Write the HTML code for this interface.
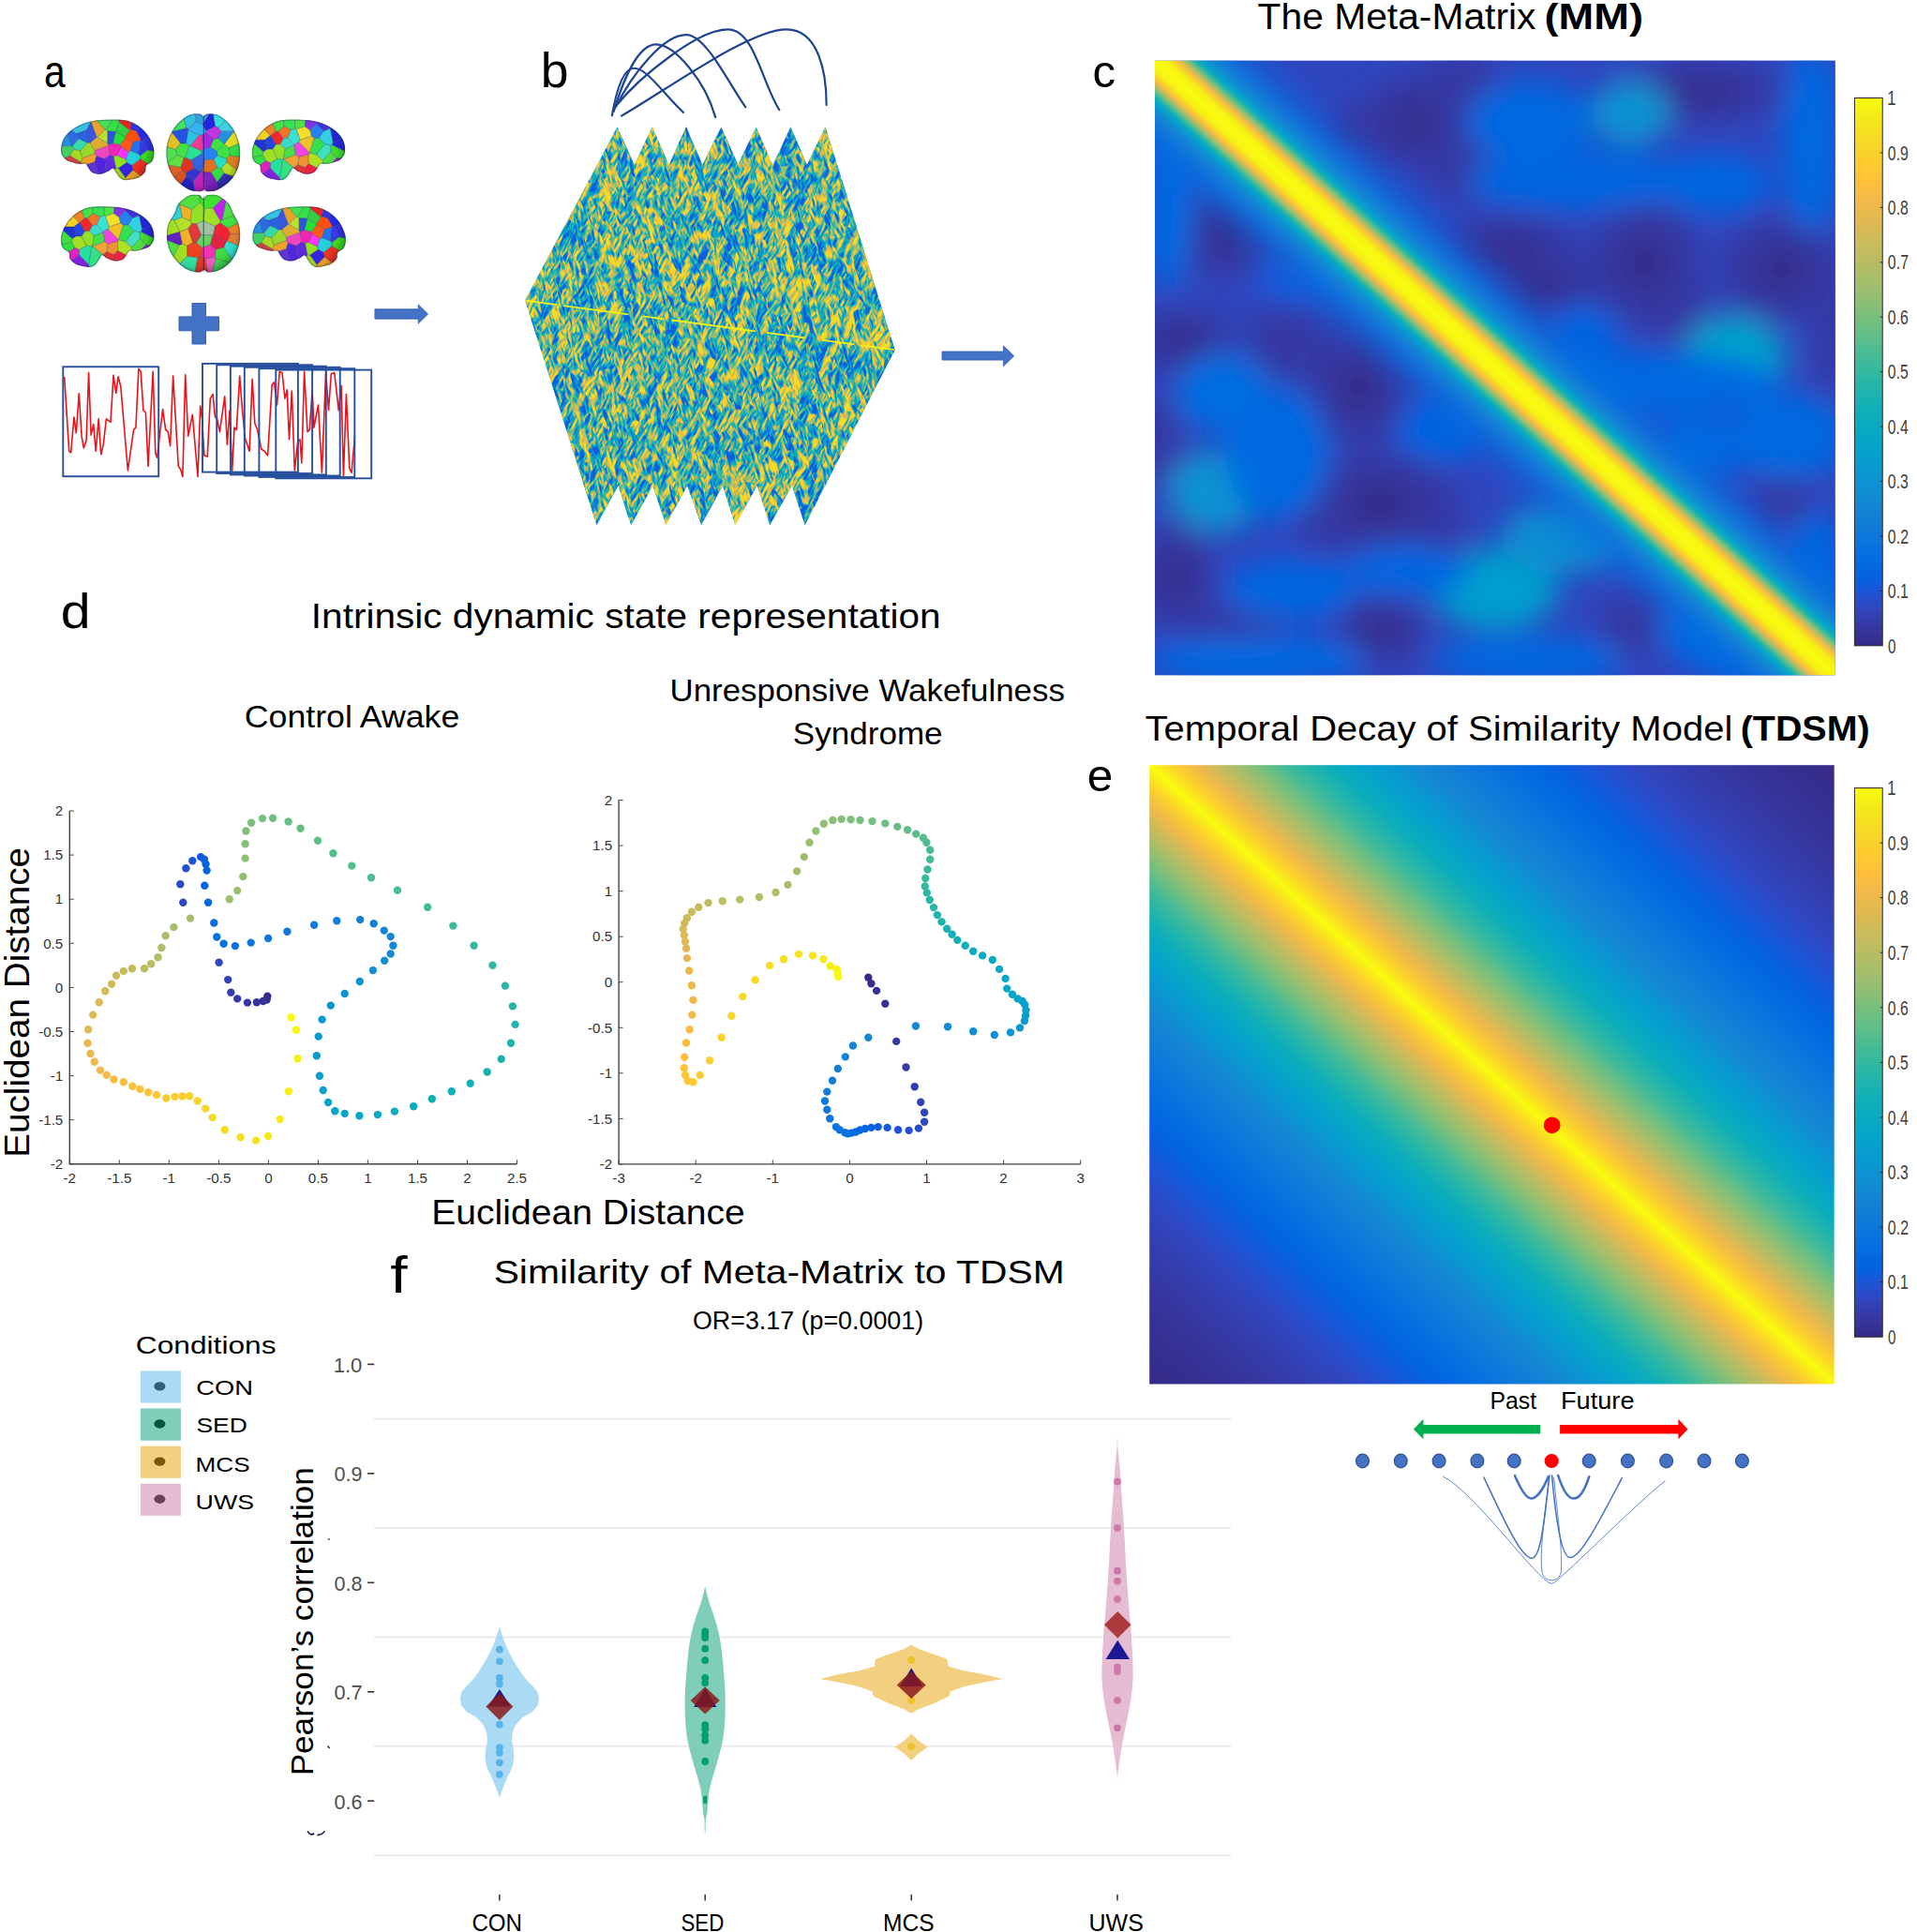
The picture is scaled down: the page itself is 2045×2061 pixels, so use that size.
<!DOCTYPE html>
<html><head><meta charset="utf-8"><title>Figure</title>
<style>html,body{margin:0;padding:0;background:#fff}svg{display:block}text{font-family:"Liberation Sans",sans-serif}</style>
</head><body>
<svg width="2045" height="2061" viewBox="0 0 2045 2061">
<rect width="2045" height="2061" fill="#fff"/>
<clipPath id="cclip"><rect x="1232.0" y="64.4" width="725.9" height="656.0"/></clipPath>
<filter id="cblur" x="-10%" y="-10%" width="120%" height="120%"><feGaussianBlur stdDeviation="15"/></filter>
<g clip-path="url(#cclip)">
<rect x="1232.0" y="64.4" width="725.9" height="656.0" fill="#2f46bf"/>
<g filter="url(#cblur)">
<ellipse cx="1559" cy="91" rx="42" ry="34" fill="#3638a3"/>
<ellipse cx="1464" cy="137" rx="47" ry="30" fill="#3638a3"/>
<ellipse cx="1566" cy="182" rx="47" ry="30" fill="#3638a3"/>
<ellipse cx="1813" cy="97" rx="94" ry="34" fill="#3638a3"/>
<ellipse cx="1609" cy="268" rx="75" ry="38" fill="#3638a3"/>
<ellipse cx="1755" cy="281" rx="61" ry="68" fill="#3638a3"/>
<ellipse cx="1784" cy="327" rx="38" ry="38" fill="#3638a3"/>
<ellipse cx="1900" cy="287" rx="66" ry="55" fill="#3638a3"/>
<ellipse cx="1305" cy="248" rx="57" ry="47" fill="#3638a3"/>
<ellipse cx="1261" cy="366" rx="57" ry="38" fill="#3638a3"/>
<ellipse cx="1370" cy="360" rx="38" ry="47" fill="#3638a3"/>
<ellipse cx="1450" cy="412" rx="57" ry="64" fill="#3638a3"/>
<ellipse cx="1472" cy="537" rx="85" ry="55" fill="#3638a3"/>
<ellipse cx="1515" cy="570" rx="47" ry="34" fill="#3638a3"/>
<ellipse cx="1254" cy="615" rx="42" ry="60" fill="#3638a3"/>
<ellipse cx="1472" cy="671" rx="47" ry="43" fill="#3638a3"/>
<ellipse cx="1747" cy="665" rx="42" ry="34" fill="#3638a3"/>
<ellipse cx="1900" cy="533" rx="33" ry="34" fill="#3638a3"/>
<ellipse cx="1954" cy="360" rx="19" ry="68" fill="#3638a3"/>
<ellipse cx="1319" cy="668" rx="47" ry="26" fill="#3638a3"/>
<ellipse cx="1682" cy="327" rx="47" ry="34" fill="#3638a3"/>
<ellipse cx="1413" cy="550" rx="38" ry="34" fill="#3638a3"/>
<ellipse cx="1856" cy="602" rx="28" ry="26" fill="#3638a3"/>
<ellipse cx="1232" cy="471" rx="28" ry="51" fill="#3638a3"/>
<ellipse cx="1508" cy="130" rx="57" ry="51" fill="#3638a3"/>
<ellipse cx="1646" cy="307" rx="66" ry="34" fill="#3638a3"/>
<ellipse cx="1406" cy="248" rx="38" ry="34" fill="#3638a3"/>
<ellipse cx="1631" cy="130" rx="67" ry="43" fill="#0269e1"/>
<ellipse cx="1740" cy="120" rx="43" ry="35" fill="#0d93d2"/>
<ellipse cx="1682" cy="192" rx="118" ry="32" fill="#0266e1"/>
<ellipse cx="1827" cy="196" rx="63" ry="32" fill="#0266e1"/>
<ellipse cx="1932" cy="150" rx="31" ry="99" fill="#0269e1"/>
<ellipse cx="1849" cy="383" rx="55" ry="46" fill="#06a3cb"/>
<ellipse cx="1755" cy="409" rx="141" ry="35" fill="#0269e1"/>
<ellipse cx="1689" cy="353" rx="39" ry="28" fill="#0364e1"/>
<ellipse cx="1907" cy="465" rx="63" ry="46" fill="#0269e1"/>
<ellipse cx="1813" cy="478" rx="47" ry="35" fill="#0269e1"/>
<ellipse cx="1936" cy="602" rx="31" ry="57" fill="#0266e1"/>
<ellipse cx="1305" cy="419" rx="51" ry="43" fill="#046de0"/>
<ellipse cx="1297" cy="524" rx="51" ry="43" fill="#0d93d2"/>
<ellipse cx="1363" cy="484" rx="55" ry="71" fill="#0269e1"/>
<ellipse cx="1377" cy="301" rx="39" ry="25" fill="#125adc"/>
<ellipse cx="1247" cy="209" rx="27" ry="99" fill="#0269e1"/>
<ellipse cx="1595" cy="629" rx="67" ry="43" fill="#069ece"/>
<ellipse cx="1668" cy="573" rx="67" ry="39" fill="#118cd2"/>
<ellipse cx="1501" cy="609" rx="67" ry="28" fill="#0266e1"/>
<ellipse cx="1341" cy="704" rx="118" ry="25" fill="#0269e1"/>
<ellipse cx="1631" cy="704" rx="102" ry="25" fill="#0269e1"/>
<ellipse cx="1820" cy="674" rx="51" ry="35" fill="#0269e1"/>
<ellipse cx="1377" cy="629" rx="71" ry="32" fill="#0266e1"/>
<ellipse cx="1537" cy="458" rx="47" ry="35" fill="#0364e1"/>
<ellipse cx="1755" cy="524" rx="47" ry="28" fill="#046de0"/>
<ellipse cx="1697" cy="491" rx="39" ry="28" fill="#0269e1"/>
<ellipse cx="1319" cy="176" rx="39" ry="28" fill="#0661e0"/>
<ellipse cx="1435" cy="281" rx="31" ry="28" fill="#0661e0"/>
<ellipse cx="1885" cy="714" rx="78" ry="14" fill="#0364e1"/>
<ellipse cx="1813" cy="97" rx="44" ry="16" fill="#352a87" fill-opacity=".8"/>
<ellipse cx="1609" cy="268" rx="35" ry="18" fill="#352a87" fill-opacity=".8"/>
<ellipse cx="1755" cy="281" rx="28" ry="31" fill="#352a87" fill-opacity=".8"/>
<ellipse cx="1900" cy="287" rx="30" ry="26" fill="#352a87" fill-opacity=".8"/>
<ellipse cx="1305" cy="248" rx="26" ry="22" fill="#352a87" fill-opacity=".8"/>
<ellipse cx="1261" cy="366" rx="26" ry="18" fill="#352a87" fill-opacity=".8"/>
<ellipse cx="1450" cy="412" rx="26" ry="30" fill="#352a87" fill-opacity=".8"/>
<ellipse cx="1472" cy="537" rx="39" ry="26" fill="#352a87" fill-opacity=".8"/>
<ellipse cx="1254" cy="615" rx="20" ry="28" fill="#352a87" fill-opacity=".8"/>
<ellipse cx="1472" cy="671" rx="22" ry="20" fill="#352a87" fill-opacity=".8"/>
<ellipse cx="1508" cy="130" rx="26" ry="24" fill="#352a87" fill-opacity=".8"/>
<ellipse cx="1646" cy="307" rx="30" ry="16" fill="#352a87" fill-opacity=".8"/>
</g>
<linearGradient id="cband" gradientUnits="userSpaceOnUse" x1="1268.6" y1="753.5" x2="1921.3" y2="31.3"><stop offset="0.3936" stop-color="#0364e1" stop-opacity="0.00"/><stop offset="0.4076" stop-color="#0267e1" stop-opacity="0.10"/><stop offset="0.4244" stop-color="#056de0" stop-opacity="0.35"/><stop offset="0.4384" stop-color="#0a72de" stop-opacity="0.70"/><stop offset="0.4496" stop-color="#117ada" stop-opacity="0.95"/><stop offset="0.4580" stop-color="#1486d3" stop-opacity="1.00"/><stop offset="0.4642" stop-color="#079cd0" stop-opacity="1.00"/><stop offset="0.4692" stop-color="#0cadbb" stop-opacity="1.00"/><stop offset="0.4731" stop-color="#3fba99" stop-opacity="1.00"/><stop offset="0.4770" stop-color="#8ebf74" stop-opacity="1.00"/><stop offset="0.4810" stop-color="#d3bb58" stop-opacity="1.00"/><stop offset="0.4849" stop-color="#fec13a" stop-opacity="1.00"/><stop offset="0.4882" stop-color="#f6dc23" stop-opacity="1.00"/><stop offset="0.4922" stop-color="#f6f115" stop-opacity="1.00"/><stop offset="0.5000" stop-color="#f9fb0e" stop-opacity="1.00"/><stop offset="0.5078" stop-color="#f6f115" stop-opacity="1.00"/><stop offset="0.5118" stop-color="#f6dc23" stop-opacity="1.00"/><stop offset="0.5151" stop-color="#fec13a" stop-opacity="1.00"/><stop offset="0.5190" stop-color="#d3bb58" stop-opacity="1.00"/><stop offset="0.5230" stop-color="#8ebf74" stop-opacity="1.00"/><stop offset="0.5269" stop-color="#3fba99" stop-opacity="1.00"/><stop offset="0.5308" stop-color="#0cadbb" stop-opacity="1.00"/><stop offset="0.5358" stop-color="#079cd0" stop-opacity="1.00"/><stop offset="0.5420" stop-color="#1486d3" stop-opacity="1.00"/><stop offset="0.5504" stop-color="#117ada" stop-opacity="0.95"/><stop offset="0.5616" stop-color="#0a72de" stop-opacity="0.70"/><stop offset="0.5756" stop-color="#056de0" stop-opacity="0.35"/><stop offset="0.5924" stop-color="#0267e1" stop-opacity="0.10"/><stop offset="0.6064" stop-color="#0364e1" stop-opacity="0.00"/></linearGradient>
<rect x="1232.0" y="64.4" width="725.9" height="656.0" fill="url(#cband)"/>
</g>
<linearGradient id="cbar1" x1="0" y1="0" x2="0" y2="1"><stop offset="0.0000" stop-color="#f9fb0e"/><stop offset="0.0312" stop-color="#f5eb18"/><stop offset="0.0625" stop-color="#f5de21"/><stop offset="0.0938" stop-color="#f9d329"/><stop offset="0.1250" stop-color="#fec932"/><stop offset="0.1562" stop-color="#febf3c"/><stop offset="0.1875" stop-color="#f2b949"/><stop offset="0.2188" stop-color="#e3b951"/><stop offset="0.2500" stop-color="#d3bb58"/><stop offset="0.2812" stop-color="#c2bc5f"/><stop offset="0.3125" stop-color="#b1bd66"/><stop offset="0.3438" stop-color="#9fbe6d"/><stop offset="0.3750" stop-color="#8bbf75"/><stop offset="0.4062" stop-color="#75bf7e"/><stop offset="0.4375" stop-color="#5ebe89"/><stop offset="0.4688" stop-color="#47bb95"/><stop offset="0.5000" stop-color="#33b8a1"/><stop offset="0.5312" stop-color="#21b4ac"/><stop offset="0.5625" stop-color="#13b0b6"/><stop offset="0.5938" stop-color="#09abbf"/><stop offset="0.6250" stop-color="#06a6c7"/><stop offset="0.6562" stop-color="#069fce"/><stop offset="0.6875" stop-color="#0a97d1"/><stop offset="0.7188" stop-color="#118dd2"/><stop offset="0.7500" stop-color="#1484d4"/><stop offset="0.7812" stop-color="#127cd8"/><stop offset="0.8125" stop-color="#0c74dd"/><stop offset="0.8438" stop-color="#046ce0"/><stop offset="0.8750" stop-color="#0462e0"/><stop offset="0.9062" stop-color="#2152d3"/><stop offset="0.9375" stop-color="#3243b9"/><stop offset="0.9688" stop-color="#36369f"/><stop offset="1.0000" stop-color="#352a87"/></linearGradient>
<rect x="1978.4" y="104.5" width="29.8" height="584.3" fill="url(#cbar1)" stroke="#262626" stroke-width="1"/>
<text transform="translate(2013.89,696.50) scale(0.7074,1)" font-size="21.50" fill="#404040">0</text>
<line x1="2005.7" y1="630.4" x2="2008.2" y2="630.4" stroke="#262626" stroke-width="1"/>
<text transform="translate(2013.87,638.07) scale(0.7378,1)" font-size="21.50" fill="#404040">0.1</text>
<line x1="2005.7" y1="571.9" x2="2008.2" y2="571.9" stroke="#262626" stroke-width="1"/>
<text transform="translate(2013.86,579.64) scale(0.7406,1)" font-size="21.50" fill="#404040">0.2</text>
<line x1="2005.7" y1="513.5" x2="2008.2" y2="513.5" stroke="#262626" stroke-width="1"/>
<text transform="translate(2013.87,521.21) scale(0.7350,1)" font-size="21.50" fill="#404040">0.3</text>
<line x1="2005.7" y1="455.1" x2="2008.2" y2="455.1" stroke="#262626" stroke-width="1"/>
<text transform="translate(2013.87,462.78) scale(0.7294,1)" font-size="21.50" fill="#404040">0.4</text>
<line x1="2005.7" y1="396.6" x2="2008.2" y2="396.6" stroke="#262626" stroke-width="1"/>
<text transform="translate(2013.87,404.35) scale(0.7350,1)" font-size="21.50" fill="#404040">0.5</text>
<line x1="2005.7" y1="338.2" x2="2008.2" y2="338.2" stroke="#262626" stroke-width="1"/>
<text transform="translate(2013.87,345.92) scale(0.7350,1)" font-size="21.50" fill="#404040">0.6</text>
<line x1="2005.7" y1="279.8" x2="2008.2" y2="279.8" stroke="#262626" stroke-width="1"/>
<text transform="translate(2013.86,287.49) scale(0.7406,1)" font-size="21.50" fill="#404040">0.7</text>
<line x1="2005.7" y1="221.4" x2="2008.2" y2="221.4" stroke="#262626" stroke-width="1"/>
<text transform="translate(2013.87,229.06) scale(0.7350,1)" font-size="21.50" fill="#404040">0.8</text>
<line x1="2005.7" y1="162.9" x2="2008.2" y2="162.9" stroke="#262626" stroke-width="1"/>
<text transform="translate(2013.87,170.63) scale(0.7378,1)" font-size="21.50" fill="#404040">0.9</text>
<text transform="translate(2013.24,112.20) scale(0.7805,1)" font-size="21.50" fill="#404040">1</text>
<linearGradient id="egrad" gradientUnits="userSpaceOnUse" x1="1263.0" y1="1509.7" x2="1919.9" y2="783.0"><stop offset="0.0000" stop-color="#352a87"/><stop offset="0.0167" stop-color="#352c8b"/><stop offset="0.0333" stop-color="#362f90"/><stop offset="0.0500" stop-color="#363195"/><stop offset="0.0667" stop-color="#36349a"/><stop offset="0.0833" stop-color="#3637a1"/><stop offset="0.1000" stop-color="#353ba8"/><stop offset="0.1167" stop-color="#343eb0"/><stop offset="0.1333" stop-color="#3243b9"/><stop offset="0.1500" stop-color="#2e48c3"/><stop offset="0.1667" stop-color="#254fce"/><stop offset="0.1833" stop-color="#1857d8"/><stop offset="0.2000" stop-color="#095fdf"/><stop offset="0.2167" stop-color="#0266e1"/><stop offset="0.2333" stop-color="#046ce0"/><stop offset="0.2500" stop-color="#0a72de"/><stop offset="0.2667" stop-color="#0f78db"/><stop offset="0.2833" stop-color="#137fd7"/><stop offset="0.3000" stop-color="#1486d3"/><stop offset="0.3167" stop-color="#0e91d2"/><stop offset="0.3333" stop-color="#079cd0"/><stop offset="0.3500" stop-color="#06a5c8"/><stop offset="0.3667" stop-color="#0bacbd"/><stop offset="0.3833" stop-color="#20b4ad"/><stop offset="0.4000" stop-color="#40ba99"/><stop offset="0.4167" stop-color="#6cbf82"/><stop offset="0.4333" stop-color="#9bbf6f"/><stop offset="0.4500" stop-color="#c5bc5e"/><stop offset="0.4667" stop-color="#f0b94a"/><stop offset="0.4833" stop-color="#fbd12b"/><stop offset="0.5000" stop-color="#f9fb0e"/><stop offset="0.5167" stop-color="#fbd12b"/><stop offset="0.5333" stop-color="#f0b94a"/><stop offset="0.5500" stop-color="#c5bc5e"/><stop offset="0.5667" stop-color="#9bbf6f"/><stop offset="0.5833" stop-color="#6cbf82"/><stop offset="0.6000" stop-color="#40ba99"/><stop offset="0.6167" stop-color="#20b4ad"/><stop offset="0.6333" stop-color="#0bacbd"/><stop offset="0.6500" stop-color="#06a5c8"/><stop offset="0.6667" stop-color="#079cd0"/><stop offset="0.6833" stop-color="#0e91d2"/><stop offset="0.7000" stop-color="#1486d3"/><stop offset="0.7167" stop-color="#137fd7"/><stop offset="0.7333" stop-color="#0f78db"/><stop offset="0.7500" stop-color="#0a72de"/><stop offset="0.7667" stop-color="#046ce0"/><stop offset="0.7833" stop-color="#0266e1"/><stop offset="0.8000" stop-color="#095fdf"/><stop offset="0.8167" stop-color="#1857d8"/><stop offset="0.8333" stop-color="#254fce"/><stop offset="0.8500" stop-color="#2e48c3"/><stop offset="0.8667" stop-color="#3243b9"/><stop offset="0.8833" stop-color="#343eb0"/><stop offset="0.9000" stop-color="#353ba8"/><stop offset="0.9167" stop-color="#3637a1"/><stop offset="0.9333" stop-color="#36349a"/><stop offset="0.9500" stop-color="#363195"/><stop offset="0.9667" stop-color="#362f90"/><stop offset="0.9833" stop-color="#352c8b"/><stop offset="1.0000" stop-color="#352a87"/></linearGradient>
<rect x="1226.2" y="816.2" width="730.5" height="660.3" fill="url(#egrad)"/>
<circle cx="1655.6" cy="1200.3" r="8.9" fill="#ff0000"/>
<linearGradient id="cbar2" x1="0" y1="0" x2="0" y2="1"><stop offset="0.0000" stop-color="#f9fb0e"/><stop offset="0.0312" stop-color="#f5eb18"/><stop offset="0.0625" stop-color="#f5de21"/><stop offset="0.0938" stop-color="#f9d329"/><stop offset="0.1250" stop-color="#fec932"/><stop offset="0.1562" stop-color="#febf3c"/><stop offset="0.1875" stop-color="#f2b949"/><stop offset="0.2188" stop-color="#e3b951"/><stop offset="0.2500" stop-color="#d3bb58"/><stop offset="0.2812" stop-color="#c2bc5f"/><stop offset="0.3125" stop-color="#b1bd66"/><stop offset="0.3438" stop-color="#9fbe6d"/><stop offset="0.3750" stop-color="#8bbf75"/><stop offset="0.4062" stop-color="#75bf7e"/><stop offset="0.4375" stop-color="#5ebe89"/><stop offset="0.4688" stop-color="#47bb95"/><stop offset="0.5000" stop-color="#33b8a1"/><stop offset="0.5312" stop-color="#21b4ac"/><stop offset="0.5625" stop-color="#13b0b6"/><stop offset="0.5938" stop-color="#09abbf"/><stop offset="0.6250" stop-color="#06a6c7"/><stop offset="0.6562" stop-color="#069fce"/><stop offset="0.6875" stop-color="#0a97d1"/><stop offset="0.7188" stop-color="#118dd2"/><stop offset="0.7500" stop-color="#1484d4"/><stop offset="0.7812" stop-color="#127cd8"/><stop offset="0.8125" stop-color="#0c74dd"/><stop offset="0.8438" stop-color="#046ce0"/><stop offset="0.8750" stop-color="#0462e0"/><stop offset="0.9062" stop-color="#2152d3"/><stop offset="0.9375" stop-color="#3243b9"/><stop offset="0.9688" stop-color="#36369f"/><stop offset="1.0000" stop-color="#352a87"/></linearGradient>
<rect x="1978.4" y="840.6" width="29.8" height="585.6" fill="url(#cbar2)" stroke="#262626" stroke-width="1"/>
<text transform="translate(2013.89,1433.90) scale(0.7074,1)" font-size="21.50" fill="#404040">0</text>
<line x1="2005.7" y1="1367.6" x2="2008.2" y2="1367.6" stroke="#262626" stroke-width="1"/>
<text transform="translate(2013.87,1375.34) scale(0.7378,1)" font-size="21.50" fill="#404040">0.1</text>
<line x1="2005.7" y1="1309.1" x2="2008.2" y2="1309.1" stroke="#262626" stroke-width="1"/>
<text transform="translate(2013.86,1316.78) scale(0.7406,1)" font-size="21.50" fill="#404040">0.2</text>
<line x1="2005.7" y1="1250.5" x2="2008.2" y2="1250.5" stroke="#262626" stroke-width="1"/>
<text transform="translate(2013.87,1258.22) scale(0.7350,1)" font-size="21.50" fill="#404040">0.3</text>
<line x1="2005.7" y1="1192.0" x2="2008.2" y2="1192.0" stroke="#262626" stroke-width="1"/>
<text transform="translate(2013.87,1199.66) scale(0.7294,1)" font-size="21.50" fill="#404040">0.4</text>
<line x1="2005.7" y1="1133.4" x2="2008.2" y2="1133.4" stroke="#262626" stroke-width="1"/>
<text transform="translate(2013.87,1141.10) scale(0.7350,1)" font-size="21.50" fill="#404040">0.5</text>
<line x1="2005.7" y1="1074.8" x2="2008.2" y2="1074.8" stroke="#262626" stroke-width="1"/>
<text transform="translate(2013.87,1082.54) scale(0.7350,1)" font-size="21.50" fill="#404040">0.6</text>
<line x1="2005.7" y1="1016.3" x2="2008.2" y2="1016.3" stroke="#262626" stroke-width="1"/>
<text transform="translate(2013.86,1023.98) scale(0.7406,1)" font-size="21.50" fill="#404040">0.7</text>
<line x1="2005.7" y1="957.7" x2="2008.2" y2="957.7" stroke="#262626" stroke-width="1"/>
<text transform="translate(2013.87,965.42) scale(0.7350,1)" font-size="21.50" fill="#404040">0.8</text>
<line x1="2005.7" y1="899.2" x2="2008.2" y2="899.2" stroke="#262626" stroke-width="1"/>
<text transform="translate(2013.87,906.86) scale(0.7378,1)" font-size="21.50" fill="#404040">0.9</text>
<text transform="translate(2013.24,848.30) scale(0.7805,1)" font-size="21.50" fill="#404040">1</text>
<filter id="bblur" x="-5%" y="-5%" width="110%" height="110%"><feGaussianBlur stdDeviation="2.2"/></filter>
<g transform="translate(50,100) scale(0.18258)">
<radialGradient id="bshadeA1" gradientUnits="userSpaceOnUse" cx="300" cy="270" r="360"><stop offset="0" stop-color="#fff" stop-opacity="0.05"/><stop offset="0.55" stop-color="#fff" stop-opacity="0"/><stop offset="0.8" stop-color="#000" stop-opacity="0.05"/><stop offset="1" stop-color="#000" stop-opacity="0.38"/></radialGradient><clipPath id="cpA1"><path d="M82.0,335.0 C81.2,317.5 85.3,290.0 95.0,270.0 C104.7,250.0 120.8,230.8 140.0,215.0 C159.2,199.2 185.0,185.0 210.0,175.0 C235.0,165.0 261.7,159.2 290.0,155.0 C318.3,150.8 351.7,150.0 380.0,150.0 C408.3,150.0 435.0,149.2 460.0,155.0 C485.0,160.8 509.2,171.7 530.0,185.0 C550.8,198.3 570.8,217.5 585.0,235.0 C599.2,252.5 607.8,271.7 615.0,290.0 C622.2,308.3 628.0,327.5 628.0,345.0 C628.0,362.5 623.0,382.5 615.0,395.0 C607.0,407.5 586.7,410.0 580.0,420.0 C573.3,430.0 580.8,444.2 575.0,455.0 C569.2,465.8 557.5,477.5 545.0,485.0 C532.5,492.5 515.0,496.7 500.0,500.0 C485.0,503.3 467.5,506.7 455.0,505.0 C442.5,503.3 434.2,498.3 425.0,490.0 C415.8,481.7 406.7,464.2 400.0,455.0 C393.3,445.8 392.5,435.0 385.0,435.0 C377.5,435.0 367.5,449.2 355.0,455.0 C342.5,460.8 325.0,469.2 310.0,470.0 C295.0,470.8 276.7,466.7 265.0,460.0 C253.3,453.3 246.7,438.3 240.0,430.0 C233.3,421.7 235.0,413.3 225.0,410.0 C215.0,406.7 195.8,412.5 180.0,410.0 C164.2,407.5 143.3,400.8 130.0,395.0 C116.7,389.2 108.0,385.0 100.0,375.0 C92.0,365.0 82.8,352.5 82.0,335.0Z"/></clipPath><g clip-path="url(#cpA1)"><g filter="url(#bblur)"><polygon points="172,233 186,263 149,307 145,305 105,185" fill="#2a6ae0" stroke="#142850" stroke-opacity=".32" stroke-width="4.5"/><polygon points="232,211 249,286 236,288 186,263 172,233" fill="#2060e0" stroke="#142850" stroke-opacity=".32" stroke-width="4.5"/><polygon points="157,325 149,307 186,263 236,288 195,334" fill="#30d8a8" stroke="#142850" stroke-opacity=".32" stroke-width="4.5"/><polygon points="62,396 62,305 145,305 149,307 157,325 134,363" fill="#40d060" stroke="#142850" stroke-opacity=".32" stroke-width="4.5"/><polygon points="134,363 157,325 195,334 209,377 200,401" fill="#a8d820" stroke="#142850" stroke-opacity=".32" stroke-width="4.5"/><polygon points="209,377 195,334 236,288 249,286 253,287 281,332 280,349" fill="#98d828" stroke="#142850" stroke-opacity=".32" stroke-width="4.5"/><polygon points="257,161 292,254 253,287 249,286 232,211" fill="#3050e0" stroke="#142850" stroke-opacity=".32" stroke-width="4.5"/><polygon points="262,130 269,130 340,210 296,254 292,254 257,161" fill="#e8a020" stroke="#142850" stroke-opacity=".32" stroke-width="4.5"/><polygon points="281,332 253,287 292,254 296,254 355,290 360,299 358,304" fill="#e0a828" stroke="#142850" stroke-opacity=".32" stroke-width="4.5"/><polygon points="355,290 296,254 340,210 345,210 355,218" fill="#b8e020" stroke="#142850" stroke-opacity=".32" stroke-width="4.5"/><polygon points="398,130 415,130 422,165 403,222 355,218 345,210" fill="#30e040" stroke="#142850" stroke-opacity=".32" stroke-width="4.5"/><polygon points="269,130 398,130 345,210 340,210" fill="#40e050" stroke="#142850" stroke-opacity=".32" stroke-width="4.5"/><polygon points="415,130 502,130 490,209 482,212 422,165" fill="#f02020" stroke="#142850" stroke-opacity=".32" stroke-width="4.5"/><polygon points="360,299 355,290 355,218 403,222 403,223 386,290" fill="#2050e0" stroke="#142850" stroke-opacity=".32" stroke-width="4.5"/><polygon points="386,290 403,223 457,250 458,259 428,299" fill="#20e030" stroke="#142850" stroke-opacity=".32" stroke-width="4.5"/><polygon points="458,259 457,250 482,212 490,209 522,218 550,268 546,272 502,285" fill="#ff5010" stroke="#142850" stroke-opacity=".32" stroke-width="4.5"/><polygon points="599,130 648,130 648,226 559,268 550,268 522,218" fill="#2828e8" stroke="#142850" stroke-opacity=".32" stroke-width="4.5"/><polygon points="502,130 599,130 522,218 490,209" fill="#3030e0" stroke="#142850" stroke-opacity=".32" stroke-width="4.5"/><polygon points="590,329 545,363 536,352 546,271 550,268 559,268" fill="#3838f0" stroke="#142850" stroke-opacity=".32" stroke-width="4.5"/><polygon points="648,339 648,447 547,382 545,363 590,329" fill="#40e020" stroke="#142850" stroke-opacity=".32" stroke-width="4.5"/><polygon points="502,285 546,272 536,352 487,334" fill="#2070f0" stroke="#142850" stroke-opacity=".32" stroke-width="4.5"/><polygon points="369,358 358,304 360,299 386,290 428,299 434,312 410,360 389,367" fill="#f020b0" stroke="#142850" stroke-opacity=".32" stroke-width="4.5"/><polygon points="280,349 281,332 358,304 369,358 338,381 288,364" fill="#f040c0" stroke="#142850" stroke-opacity=".32" stroke-width="4.5"/><polygon points="410,360 434,312 477,338 461,386" fill="#ff30ff" stroke="#142850" stroke-opacity=".32" stroke-width="4.5"/><polygon points="466,403 461,386 477,338 487,334 536,352 545,363 547,382 497,419" fill="#20d0e0" stroke="#142850" stroke-opacity=".32" stroke-width="4.5"/><polygon points="316,515 280,397 288,364 338,381 346,471" fill="#5020e0" stroke="#142850" stroke-opacity=".32" stroke-width="4.5"/><polygon points="312,525 178,525 202,423 280,397 316,515" fill="#6030d0" stroke="#142850" stroke-opacity=".32" stroke-width="4.5"/><polygon points="389,367 410,360 461,386 466,403 418,435 403,435" fill="#90e020" stroke="#142850" stroke-opacity=".32" stroke-width="4.5"/><polygon points="418,435 466,403 498,419 504,446 459,491" fill="#3020e0" stroke="#142850" stroke-opacity=".32" stroke-width="4.5"/><polygon points="648,447 648,525 609,525 504,446 498,419 547,382" fill="#f03020" stroke="#142850" stroke-opacity=".32" stroke-width="4.5"/><polygon points="609,525 455,525 459,491 504,446" fill="#f0a020" stroke="#142850" stroke-opacity=".32" stroke-width="4.5"/><polygon points="455,525 312,525 316,515 346,471 403,435 418,435 459,491" fill="#a0d020" stroke="#142850" stroke-opacity=".32" stroke-width="4.5"/><polygon points="178,525 62,525 62,396 134,363 200,401 202,423" fill="#d04040" stroke="#142850" stroke-opacity=".32" stroke-width="4.5"/><polygon points="200,401 209,377 280,349 288,364 280,397 202,423" fill="#f0a020" stroke="#142850" stroke-opacity=".32" stroke-width="4.5"/><polygon points="62,130 262,130 257,161 232,211 172,233 105,185 62,142" fill="#30c0e0" stroke="#142850" stroke-opacity=".32" stroke-width="4.5"/><polygon points="105,185 145,305 62,305 62,142" fill="#2090e0" stroke="#142850" stroke-opacity=".32" stroke-width="4.5"/><polygon points="457,250 403,223 403,222 422,165 482,212" fill="#30d040" stroke="#142850" stroke-opacity=".32" stroke-width="4.5"/><polygon points="428,299 458,259 502,285 487,334 477,338 434,312" fill="#ff5818" stroke="#142850" stroke-opacity=".32" stroke-width="4.5"/><polygon points="346,471 338,381 369,358 389,367 403,435" fill="#6028e0" stroke="#142850" stroke-opacity=".32" stroke-width="4.5"/><polygon points="648,226 648,339 590,329 559,268" fill="#3030e8" stroke="#142850" stroke-opacity=".32" stroke-width="4.5"/></g><path d="M82.0,335.0 C81.2,317.5 85.3,290.0 95.0,270.0 C104.7,250.0 120.8,230.8 140.0,215.0 C159.2,199.2 185.0,185.0 210.0,175.0 C235.0,165.0 261.7,159.2 290.0,155.0 C318.3,150.8 351.7,150.0 380.0,150.0 C408.3,150.0 435.0,149.2 460.0,155.0 C485.0,160.8 509.2,171.7 530.0,185.0 C550.8,198.3 570.8,217.5 585.0,235.0 C599.2,252.5 607.8,271.7 615.0,290.0 C622.2,308.3 628.0,327.5 628.0,345.0 C628.0,362.5 623.0,382.5 615.0,395.0 C607.0,407.5 586.7,410.0 580.0,420.0 C573.3,430.0 580.8,444.2 575.0,455.0 C569.2,465.8 557.5,477.5 545.0,485.0 C532.5,492.5 515.0,496.7 500.0,500.0 C485.0,503.3 467.5,506.7 455.0,505.0 C442.5,503.3 434.2,498.3 425.0,490.0 C415.8,481.7 406.7,464.2 400.0,455.0 C393.3,445.8 392.5,435.0 385.0,435.0 C377.5,435.0 367.5,449.2 355.0,455.0 C342.5,460.8 325.0,469.2 310.0,470.0 C295.0,470.8 276.7,466.7 265.0,460.0 C253.3,453.3 246.7,438.3 240.0,430.0 C233.3,421.7 235.0,413.3 225.0,410.0 C215.0,406.7 195.8,412.5 180.0,410.0 C164.2,407.5 143.3,400.8 130.0,395.0 C116.7,389.2 108.0,385.0 100.0,375.0 C92.0,365.0 82.8,352.5 82.0,335.0Z" fill="url(#bshadeA1)"/><path d="M82.0,335.0 C81.2,317.5 85.3,290.0 95.0,270.0 C104.7,250.0 120.8,230.8 140.0,215.0 C159.2,199.2 185.0,185.0 210.0,175.0 C235.0,165.0 261.7,159.2 290.0,155.0 C318.3,150.8 351.7,150.0 380.0,150.0 C408.3,150.0 435.0,149.2 460.0,155.0 C485.0,160.8 509.2,171.7 530.0,185.0 C550.8,198.3 570.8,217.5 585.0,235.0 C599.2,252.5 607.8,271.7 615.0,290.0 C622.2,308.3 628.0,327.5 628.0,345.0 C628.0,362.5 623.0,382.5 615.0,395.0 C607.0,407.5 586.7,410.0 580.0,420.0 C573.3,430.0 580.8,444.2 575.0,455.0 C569.2,465.8 557.5,477.5 545.0,485.0 C532.5,492.5 515.0,496.7 500.0,500.0 C485.0,503.3 467.5,506.7 455.0,505.0 C442.5,503.3 434.2,498.3 425.0,490.0 C415.8,481.7 406.7,464.2 400.0,455.0 C393.3,445.8 392.5,435.0 385.0,435.0 C377.5,435.0 367.5,449.2 355.0,455.0 C342.5,460.8 325.0,469.2 310.0,470.0 C295.0,470.8 276.7,466.7 265.0,460.0 C253.3,453.3 246.7,438.3 240.0,430.0 C233.3,421.7 235.0,413.3 225.0,410.0 C215.0,406.7 195.8,412.5 180.0,410.0 C164.2,407.5 143.3,400.8 130.0,395.0 C116.7,389.2 108.0,385.0 100.0,375.0 C92.0,365.0 82.8,352.5 82.0,335.0Z" fill="none" stroke="#203060" stroke-opacity="0.35" stroke-width="14"/></g>
<radialGradient id="bshadeB1" gradientUnits="userSpaceOnUse" cx="1420" cy="270" r="360"><stop offset="0" stop-color="#fff" stop-opacity="0.05"/><stop offset="0.55" stop-color="#fff" stop-opacity="0"/><stop offset="0.8" stop-color="#000" stop-opacity="0.05"/><stop offset="1" stop-color="#000" stop-opacity="0.38"/></radialGradient><clipPath id="cpB1"><path d="M1743.0,335.0 C1743.8,317.5 1739.7,290.0 1730.0,270.0 C1720.3,250.0 1704.2,230.8 1685.0,215.0 C1665.8,199.2 1640.0,185.0 1615.0,175.0 C1590.0,165.0 1563.3,159.2 1535.0,155.0 C1506.7,150.8 1473.3,150.0 1445.0,150.0 C1416.7,150.0 1390.0,149.2 1365.0,155.0 C1340.0,160.8 1315.8,171.7 1295.0,185.0 C1274.2,198.3 1254.2,217.5 1240.0,235.0 C1225.8,252.5 1217.2,271.7 1210.0,290.0 C1202.8,308.3 1197.0,327.5 1197.0,345.0 C1197.0,362.5 1202.0,382.5 1210.0,395.0 C1218.0,407.5 1238.3,410.0 1245.0,420.0 C1251.7,430.0 1244.2,444.2 1250.0,455.0 C1255.8,465.8 1267.5,477.5 1280.0,485.0 C1292.5,492.5 1310.0,496.7 1325.0,500.0 C1340.0,503.3 1357.5,506.7 1370.0,505.0 C1382.5,503.3 1390.8,498.3 1400.0,490.0 C1409.2,481.7 1418.3,464.2 1425.0,455.0 C1431.7,445.8 1432.5,435.0 1440.0,435.0 C1447.5,435.0 1457.5,449.2 1470.0,455.0 C1482.5,460.8 1500.0,469.2 1515.0,470.0 C1530.0,470.8 1548.3,466.7 1560.0,460.0 C1571.7,453.3 1578.3,438.3 1585.0,430.0 C1591.7,421.7 1590.0,413.3 1600.0,410.0 C1610.0,406.7 1629.2,412.5 1645.0,410.0 C1660.8,407.5 1681.7,400.8 1695.0,395.0 C1708.3,389.2 1717.0,385.0 1725.0,375.0 C1733.0,365.0 1742.2,352.5 1743.0,335.0Z"/></clipPath><g clip-path="url(#cpB1)"><g filter="url(#bblur)"><polygon points="1190,130 1301,130 1337,220 1307,245 1305,245" fill="#f08020" stroke="#142850" stroke-opacity=".32" stroke-width="4.5"/><polygon points="1177,130 1190,130 1305,245 1274,270 1185,270 1177,267" fill="#f0d020" stroke="#142850" stroke-opacity=".32" stroke-width="4.5"/><polygon points="1301,130 1379,130 1387,191 1351,220 1337,220" fill="#40e040" stroke="#142850" stroke-opacity=".32" stroke-width="4.5"/><polygon points="1379,130 1447,130 1453,204 1427,211 1387,191" fill="#30e050" stroke="#142850" stroke-opacity=".32" stroke-width="4.5"/><polygon points="1447,130 1513,130 1508,192 1459,207 1453,204" fill="#50e040" stroke="#142850" stroke-opacity=".32" stroke-width="4.5"/><polygon points="1383,262 1351,220 1387,191 1427,211 1408,258" fill="#f07020" stroke="#142850" stroke-opacity=".32" stroke-width="4.5"/><polygon points="1307,245 1337,220 1351,220 1383,262 1364,294 1338,297" fill="#f02020" stroke="#142850" stroke-opacity=".32" stroke-width="4.5"/><polygon points="1408,258 1427,211 1453,204 1459,207 1480,270 1473,283 1447,297" fill="#30e0d0" stroke="#142850" stroke-opacity=".32" stroke-width="4.5"/><polygon points="1547,248 1480,270 1459,207 1508,192 1538,212" fill="#f0e020" stroke="#142850" stroke-opacity=".32" stroke-width="4.5"/><polygon points="1473,283 1480,270 1547,248 1563,260 1535,345" fill="#f0c020" stroke="#142850" stroke-opacity=".32" stroke-width="4.5"/><polygon points="1618,218 1590,260 1563,260 1547,248 1538,212 1575,175" fill="#2080f0" stroke="#142850" stroke-opacity=".32" stroke-width="4.5"/><polygon points="1590,260 1618,218 1656,202 1673,286 1666,298 1660,302 1624,294" fill="#30d0e0" stroke="#142850" stroke-opacity=".32" stroke-width="4.5"/><polygon points="1710,130 1763,130 1763,241 1673,286 1656,202" fill="#2020e0" stroke="#142850" stroke-opacity=".32" stroke-width="4.5"/><polygon points="1581,130 1710,130 1656,202 1618,218 1575,175" fill="#4030e0" stroke="#142850" stroke-opacity=".32" stroke-width="4.5"/><polygon points="1185,270 1274,270 1288,325 1265,340" fill="#2030d0" stroke="#142850" stroke-opacity=".32" stroke-width="4.5"/><polygon points="1288,325 1274,270 1305,245 1307,245 1338,297 1320,325" fill="#2040e0" stroke="#142850" stroke-opacity=".32" stroke-width="4.5"/><polygon points="1177,382 1177,267 1185,270 1265,340 1261,357" fill="#40e040" stroke="#142850" stroke-opacity=".32" stroke-width="4.5"/><polygon points="1279,392 1261,357 1265,340 1288,325 1320,325 1347,379 1305,404" fill="#a0e020" stroke="#142850" stroke-opacity=".32" stroke-width="4.5"/><polygon points="1177,468 1177,382 1261,357 1279,392" fill="#30e040" stroke="#142850" stroke-opacity=".32" stroke-width="4.5"/><polygon points="1347,379 1320,325 1338,297 1364,294 1392,322 1382,384 1382,384 1378,386" fill="#90e020" stroke="#142850" stroke-opacity=".32" stroke-width="4.5"/><polygon points="1453,356 1444,301 1447,297 1473,283 1535,345 1535,347 1530,354 1474,370" fill="#f040e0" stroke="#142850" stroke-opacity=".32" stroke-width="4.5"/><polygon points="1382,384 1392,322 1444,301 1453,356" fill="#40e040" stroke="#142850" stroke-opacity=".32" stroke-width="4.5"/><polygon points="1535,347 1535,345 1563,260 1590,260 1624,294 1576,356" fill="#30e050" stroke="#142850" stroke-opacity=".32" stroke-width="4.5"/><polygon points="1576,356 1624,294 1660,302 1660,340 1610,390" fill="#40e0c0" stroke="#142850" stroke-opacity=".32" stroke-width="4.5"/><polygon points="1763,347 1763,385 1695,375 1660,340 1660,302 1666,298" fill="#40e030" stroke="#142850" stroke-opacity=".32" stroke-width="4.5"/><polygon points="1622,448 1610,390 1660,340 1695,375" fill="#50e040" stroke="#142850" stroke-opacity=".32" stroke-width="4.5"/><polygon points="1382,384 1382,384 1453,356 1474,370 1467,416 1442,432" fill="#f0a030" stroke="#142850" stroke-opacity=".32" stroke-width="4.5"/><polygon points="1467,416 1474,370 1530,354 1530,410 1508,432" fill="#f09030" stroke="#142850" stroke-opacity=".32" stroke-width="4.5"/><polygon points="1530,410 1530,354 1535,347 1576,356 1610,390 1622,448 1621,456" fill="#b0e020" stroke="#142850" stroke-opacity=".32" stroke-width="4.5"/><polygon points="1361,491 1305,435 1305,404 1347,379 1378,386" fill="#20e0a0" stroke="#142850" stroke-opacity=".32" stroke-width="4.5"/><polygon points="1185,525 1177,525 1177,468 1279,392 1305,404 1305,435" fill="#e020c0" stroke="#142850" stroke-opacity=".32" stroke-width="4.5"/><polygon points="1371,525 1185,525 1305,435 1361,491" fill="#8020e0" stroke="#142850" stroke-opacity=".32" stroke-width="4.5"/><polygon points="1635,525 1523,525 1508,432 1530,410 1621,456" fill="#f02040" stroke="#142850" stroke-opacity=".32" stroke-width="4.5"/><polygon points="1523,525 1430,525 1442,432 1467,416 1508,432" fill="#e03030" stroke="#142850" stroke-opacity=".32" stroke-width="4.5"/><polygon points="1763,385 1763,525 1635,525 1621,456 1622,448 1695,375" fill="#a020c0" stroke="#142850" stroke-opacity=".32" stroke-width="4.5"/><polygon points="1513,130 1581,130 1575,175 1538,212 1508,192" fill="#8030e0" stroke="#142850" stroke-opacity=".32" stroke-width="4.5"/><polygon points="1763,241 1763,346 1666,298 1673,286" fill="#2828e0" stroke="#142850" stroke-opacity=".32" stroke-width="4.5"/><polygon points="1364,294 1383,262 1408,258 1447,297 1444,301 1392,322" fill="#30d8c8" stroke="#142850" stroke-opacity=".32" stroke-width="4.5"/><polygon points="1430,525 1371,525 1361,491 1378,386 1382,384 1442,432" fill="#30e080" stroke="#142850" stroke-opacity=".32" stroke-width="4.5"/></g><path d="M1743.0,335.0 C1743.8,317.5 1739.7,290.0 1730.0,270.0 C1720.3,250.0 1704.2,230.8 1685.0,215.0 C1665.8,199.2 1640.0,185.0 1615.0,175.0 C1590.0,165.0 1563.3,159.2 1535.0,155.0 C1506.7,150.8 1473.3,150.0 1445.0,150.0 C1416.7,150.0 1390.0,149.2 1365.0,155.0 C1340.0,160.8 1315.8,171.7 1295.0,185.0 C1274.2,198.3 1254.2,217.5 1240.0,235.0 C1225.8,252.5 1217.2,271.7 1210.0,290.0 C1202.8,308.3 1197.0,327.5 1197.0,345.0 C1197.0,362.5 1202.0,382.5 1210.0,395.0 C1218.0,407.5 1238.3,410.0 1245.0,420.0 C1251.7,430.0 1244.2,444.2 1250.0,455.0 C1255.8,465.8 1267.5,477.5 1280.0,485.0 C1292.5,492.5 1310.0,496.7 1325.0,500.0 C1340.0,503.3 1357.5,506.7 1370.0,505.0 C1382.5,503.3 1390.8,498.3 1400.0,490.0 C1409.2,481.7 1418.3,464.2 1425.0,455.0 C1431.7,445.8 1432.5,435.0 1440.0,435.0 C1447.5,435.0 1457.5,449.2 1470.0,455.0 C1482.5,460.8 1500.0,469.2 1515.0,470.0 C1530.0,470.8 1548.3,466.7 1560.0,460.0 C1571.7,453.3 1578.3,438.3 1585.0,430.0 C1591.7,421.7 1590.0,413.3 1600.0,410.0 C1610.0,406.7 1629.2,412.5 1645.0,410.0 C1660.8,407.5 1681.7,400.8 1695.0,395.0 C1708.3,389.2 1717.0,385.0 1725.0,375.0 C1733.0,365.0 1742.2,352.5 1743.0,335.0Z" fill="url(#bshadeB1)"/><path d="M1743.0,335.0 C1743.8,317.5 1739.7,290.0 1730.0,270.0 C1720.3,250.0 1704.2,230.8 1685.0,215.0 C1665.8,199.2 1640.0,185.0 1615.0,175.0 C1590.0,165.0 1563.3,159.2 1535.0,155.0 C1506.7,150.8 1473.3,150.0 1445.0,150.0 C1416.7,150.0 1390.0,149.2 1365.0,155.0 C1340.0,160.8 1315.8,171.7 1295.0,185.0 C1274.2,198.3 1254.2,217.5 1240.0,235.0 C1225.8,252.5 1217.2,271.7 1210.0,290.0 C1202.8,308.3 1197.0,327.5 1197.0,345.0 C1197.0,362.5 1202.0,382.5 1210.0,395.0 C1218.0,407.5 1238.3,410.0 1245.0,420.0 C1251.7,430.0 1244.2,444.2 1250.0,455.0 C1255.8,465.8 1267.5,477.5 1280.0,485.0 C1292.5,492.5 1310.0,496.7 1325.0,500.0 C1340.0,503.3 1357.5,506.7 1370.0,505.0 C1382.5,503.3 1390.8,498.3 1400.0,490.0 C1409.2,481.7 1418.3,464.2 1425.0,455.0 C1431.7,445.8 1432.5,435.0 1440.0,435.0 C1447.5,435.0 1457.5,449.2 1470.0,455.0 C1482.5,460.8 1500.0,469.2 1515.0,470.0 C1530.0,470.8 1548.3,466.7 1560.0,460.0 C1571.7,453.3 1578.3,438.3 1585.0,430.0 C1591.7,421.7 1590.0,413.3 1600.0,410.0 C1610.0,406.7 1629.2,412.5 1645.0,410.0 C1660.8,407.5 1681.7,400.8 1695.0,395.0 C1708.3,389.2 1717.0,385.0 1725.0,375.0 C1733.0,365.0 1742.2,352.5 1743.0,335.0Z" fill="none" stroke="#203060" stroke-opacity="0.35" stroke-width="14"/></g>
<radialGradient id="bshadeT1" gradientUnits="userSpaceOnUse" cx="880" cy="300" r="300"><stop offset="0" stop-color="#fff" stop-opacity="0.05"/><stop offset="0.55" stop-color="#fff" stop-opacity="0"/><stop offset="0.8" stop-color="#000" stop-opacity="0.05"/><stop offset="1" stop-color="#000" stop-opacity="0.38"/></radialGradient><clipPath id="cpT1"><path d="M915.0,135.0 C921.7,135.0 920.8,119.7 935.0,118.0 C949.2,116.3 977.5,114.7 1000.0,125.0 C1022.5,135.3 1050.8,157.5 1070.0,180.0 C1089.2,202.5 1105.0,231.7 1115.0,260.0 C1125.0,288.3 1130.0,320.0 1130.0,350.0 C1130.0,380.0 1125.0,413.3 1115.0,440.0 C1105.0,466.7 1089.2,490.0 1070.0,510.0 C1050.8,530.0 1021.7,549.7 1000.0,560.0 C978.3,570.3 953.7,572.0 940.0,572.0 C926.3,572.0 925.5,560.0 918.0,560.0 C910.5,560.0 909.7,572.0 895.0,572.0 C880.3,572.0 852.5,570.3 830.0,560.0 C807.5,549.7 779.2,530.0 760.0,510.0 C740.8,490.0 725.5,466.7 715.0,440.0 C704.5,413.3 697.5,380.0 697.0,350.0 C696.5,320.0 701.5,288.3 712.0,260.0 C722.5,231.7 740.3,202.5 760.0,180.0 C779.7,157.5 807.5,135.3 830.0,125.0 C852.5,114.7 880.8,116.3 895.0,118.0 C909.2,119.7 908.3,135.0 915.0,135.0Z"/></clipPath><g clip-path="url(#cpT1)"><g filter="url(#bblur)"><polygon points="677,98 787,98 817,201 728,223 677,210" fill="#40e060" stroke="#142850" stroke-opacity=".32" stroke-width="4.5"/><polygon points="787,98 862,98 873,164 823,204 817,201" fill="#30c0e0" stroke="#142850" stroke-opacity=".32" stroke-width="4.5"/><polygon points="907,242 890,242 827,211 823,204 873,164 912,177 929,218 926,228" fill="#30b0f0" stroke="#142850" stroke-opacity=".32" stroke-width="4.5"/><polygon points="728,223 817,201 823,204 827,211 814,290 781,290" fill="#2050e0" stroke="#142850" stroke-opacity=".32" stroke-width="4.5"/><polygon points="832,305 814,290 827,211 890,242 838,305" fill="#20c0e0" stroke="#142850" stroke-opacity=".32" stroke-width="4.5"/><polygon points="677,302 677,210 728,223 781,290 751,327" fill="#e0c020" stroke="#142850" stroke-opacity=".32" stroke-width="4.5"/><polygon points="751,327 781,290 814,290 832,305 809,374 801,376 760,359" fill="#40e040" stroke="#142850" stroke-opacity=".32" stroke-width="4.5"/><polygon points="905,336 838,305 890,242 907,242 914,325" fill="#f03090" stroke="#142850" stroke-opacity=".32" stroke-width="4.5"/><polygon points="809,374 832,305 838,305 905,336 905,351 843,388" fill="#20e090" stroke="#142850" stroke-opacity=".32" stroke-width="4.5"/><polygon points="760,359 801,376 783,431 693,413" fill="#60e040" stroke="#142850" stroke-opacity=".32" stroke-width="4.5"/><polygon points="909,453 901,454 859,438 843,388 905,351 926,385" fill="#3060e0" stroke="#142850" stroke-opacity=".32" stroke-width="4.5"/><polygon points="791,450 783,431 801,376 809,374 843,388 859,438 812,462" fill="#e03020" stroke="#142850" stroke-opacity=".32" stroke-width="4.5"/><polygon points="677,536 677,417 693,413 783,431 791,450" fill="#e06020" stroke="#142850" stroke-opacity=".32" stroke-width="4.5"/><polygon points="735,592 677,592 677,536 791,450 812,462 815,485" fill="#e05020" stroke="#142850" stroke-opacity=".32" stroke-width="4.5"/><polygon points="815,485 812,462 859,438 901,454 855,515" fill="#3030d0" stroke="#142850" stroke-opacity=".32" stroke-width="4.5"/><polygon points="934,592 866,592 855,515 901,454 909,453 912,455" fill="#c020c0" stroke="#142850" stroke-opacity=".32" stroke-width="4.5"/><polygon points="866,592 735,592 815,485 855,515" fill="#2020c0" stroke="#142850" stroke-opacity=".32" stroke-width="4.5"/><polygon points="959,98 969,98 984,190 929,218 912,177" fill="#2020e0" stroke="#142850" stroke-opacity=".32" stroke-width="4.5"/><polygon points="969,98 1102,98 1002,198 984,190" fill="#30e0e0" stroke="#142850" stroke-opacity=".32" stroke-width="4.5"/><polygon points="1102,98 1150,98 1150,195 1094,220 1017,220 1002,198" fill="#40d0e0" stroke="#142850" stroke-opacity=".32" stroke-width="4.5"/><polygon points="926,228 929,218 984,190 1002,198 1017,220 1002,262 974,267" fill="#c030e0" stroke="#142850" stroke-opacity=".32" stroke-width="4.5"/><polygon points="1035,295 1002,262 1017,220 1094,220 1037,295" fill="#2090e0" stroke="#142850" stroke-opacity=".32" stroke-width="4.5"/><polygon points="914,325 907,242 926,228 974,267 956,313" fill="#a020e0" stroke="#142850" stroke-opacity=".32" stroke-width="4.5"/><polygon points="956,313 974,267 1002,262 1035,295 994,336" fill="#40e040" stroke="#142850" stroke-opacity=".32" stroke-width="4.5"/><polygon points="1150,195 1150,281 1062,316 1037,295 1094,220" fill="#e0e020" stroke="#142850" stroke-opacity=".32" stroke-width="4.5"/><polygon points="1150,281 1150,373 1069,361 1062,316" fill="#30e040" stroke="#142850" stroke-opacity=".32" stroke-width="4.5"/><polygon points="926,385 905,351 905,336 914,325 956,313 994,336 998,362 975,385" fill="#2080f0" stroke="#142850" stroke-opacity=".32" stroke-width="4.5"/><polygon points="998,362 994,336 1035,295 1037,295 1062,316 1069,361 1050,380" fill="#40e040" stroke="#142850" stroke-opacity=".32" stroke-width="4.5"/><polygon points="994,433 975,385 998,362 1050,380 1050,401 1021,437" fill="#20e0c0" stroke="#142850" stroke-opacity=".32" stroke-width="4.5"/><polygon points="912,455 909,453 926,385 975,385 994,433 960,461" fill="#e07020" stroke="#142850" stroke-opacity=".32" stroke-width="4.5"/><polygon points="1150,373 1150,476 1050,401 1050,380 1069,361" fill="#e08020" stroke="#142850" stroke-opacity=".32" stroke-width="4.5"/><polygon points="1150,476 1150,503 1035,465 1021,437 1050,401" fill="#c0e020" stroke="#142850" stroke-opacity=".32" stroke-width="4.5"/><polygon points="995,518 960,461 994,433 1021,437 1035,465" fill="#30e040" stroke="#142850" stroke-opacity=".32" stroke-width="4.5"/><polygon points="995,592 934,592 912,455 960,461 995,518" fill="#8020c0" stroke="#142850" stroke-opacity=".32" stroke-width="4.5"/><polygon points="1150,503 1150,592 995,592 995,518 1035,465" fill="#3030c0" stroke="#142850" stroke-opacity=".32" stroke-width="4.5"/><polygon points="677,417 677,302 751,327 760,359 693,413" fill="#50e050" stroke="#142850" stroke-opacity=".32" stroke-width="4.5"/><polygon points="862,98 959,98 912,177 873,164" fill="#30a0e0" stroke="#142850" stroke-opacity=".32" stroke-width="4.5"/></g><path d="M915.0,135.0 C921.7,135.0 920.8,119.7 935.0,118.0 C949.2,116.3 977.5,114.7 1000.0,125.0 C1022.5,135.3 1050.8,157.5 1070.0,180.0 C1089.2,202.5 1105.0,231.7 1115.0,260.0 C1125.0,288.3 1130.0,320.0 1130.0,350.0 C1130.0,380.0 1125.0,413.3 1115.0,440.0 C1105.0,466.7 1089.2,490.0 1070.0,510.0 C1050.8,530.0 1021.7,549.7 1000.0,560.0 C978.3,570.3 953.7,572.0 940.0,572.0 C926.3,572.0 925.5,560.0 918.0,560.0 C910.5,560.0 909.7,572.0 895.0,572.0 C880.3,572.0 852.5,570.3 830.0,560.0 C807.5,549.7 779.2,530.0 760.0,510.0 C740.8,490.0 725.5,466.7 715.0,440.0 C704.5,413.3 697.5,380.0 697.0,350.0 C696.5,320.0 701.5,288.3 712.0,260.0 C722.5,231.7 740.3,202.5 760.0,180.0 C779.7,157.5 807.5,135.3 830.0,125.0 C852.5,114.7 880.8,116.3 895.0,118.0 C909.2,119.7 908.3,135.0 915.0,135.0Z" fill="url(#bshadeT1)"/><path d="M915.0,135.0 C921.7,135.0 920.8,119.7 935.0,118.0 C949.2,116.3 977.5,114.7 1000.0,125.0 C1022.5,135.3 1050.8,157.5 1070.0,180.0 C1089.2,202.5 1105.0,231.7 1115.0,260.0 C1125.0,288.3 1130.0,320.0 1130.0,350.0 C1130.0,380.0 1125.0,413.3 1115.0,440.0 C1105.0,466.7 1089.2,490.0 1070.0,510.0 C1050.8,530.0 1021.7,549.7 1000.0,560.0 C978.3,570.3 953.7,572.0 940.0,572.0 C926.3,572.0 925.5,560.0 918.0,560.0 C910.5,560.0 909.7,572.0 895.0,572.0 C880.3,572.0 852.5,570.3 830.0,560.0 C807.5,549.7 779.2,530.0 760.0,510.0 C740.8,490.0 725.5,466.7 715.0,440.0 C704.5,413.3 697.5,380.0 697.0,350.0 C696.5,320.0 701.5,288.3 712.0,260.0 C722.5,231.7 740.3,202.5 760.0,180.0 C779.7,157.5 807.5,135.3 830.0,125.0 C852.5,114.7 880.8,116.3 895.0,118.0 C909.2,119.7 908.3,135.0 915.0,135.0Z" fill="none" stroke="#203060" stroke-opacity="0.35" stroke-width="14"/></g>
<radialGradient id="bshadeU1" gradientUnits="userSpaceOnUse" cx="880" cy="770" r="300"><stop offset="0" stop-color="#fff" stop-opacity="0.05"/><stop offset="0.55" stop-color="#fff" stop-opacity="0"/><stop offset="0.8" stop-color="#000" stop-opacity="0.05"/><stop offset="1" stop-color="#000" stop-opacity="0.38"/></radialGradient><clipPath id="cpU1"><path d="M915.0,615.0 C923.3,615.0 925.8,595.3 940.0,592.0 C954.2,588.7 980.0,587.0 1000.0,595.0 C1020.0,603.0 1045.0,622.5 1060.0,640.0 C1075.0,657.5 1080.0,680.0 1090.0,700.0 C1100.0,720.0 1113.3,738.3 1120.0,760.0 C1126.7,781.7 1130.8,805.0 1130.0,830.0 C1129.2,855.0 1124.2,885.0 1115.0,910.0 C1105.8,935.0 1092.5,960.0 1075.0,980.0 C1057.5,1000.0 1031.7,1019.2 1010.0,1030.0 C988.3,1040.8 960.3,1045.0 945.0,1045.0 C929.7,1045.0 927.2,1030.0 918.0,1030.0 C908.8,1030.0 905.5,1045.0 890.0,1045.0 C874.5,1045.0 846.7,1040.8 825.0,1030.0 C803.3,1019.2 778.3,1000.0 760.0,980.0 C741.7,960.0 725.0,935.0 715.0,910.0 C705.0,885.0 700.8,855.0 700.0,830.0 C699.2,805.0 702.5,781.7 710.0,760.0 C717.5,738.3 735.0,720.0 745.0,700.0 C755.0,680.0 755.8,657.5 770.0,640.0 C784.2,622.5 810.0,603.0 830.0,595.0 C850.0,587.0 875.8,588.7 890.0,592.0 C904.2,595.3 906.7,615.0 915.0,615.0Z"/></clipPath><g clip-path="url(#cpU1)"><g filter="url(#bblur)"><polygon points="711,572 890,572 895,637 848,676 775,647" fill="#50e040" stroke="#142850" stroke-opacity=".32" stroke-width="4.5"/><polygon points="890,572 1063,572 1055,585 970,670 924,670 895,637" fill="#40e030" stroke="#142850" stroke-opacity=".32" stroke-width="4.5"/><polygon points="775,647 848,676 838,743 791,723" fill="#f0b020" stroke="#142850" stroke-opacity=".32" stroke-width="4.5"/><polygon points="838,743 848,676 895,637 924,670 915,744 875,760 847,758" fill="#90e020" stroke="#142850" stroke-opacity=".32" stroke-width="4.5"/><polygon points="1025,735 1015,745 970,670 1055,585" fill="#c020f0" stroke="#142850" stroke-opacity=".32" stroke-width="4.5"/><polygon points="915,744 924,670 970,670 1015,745 1012,754 982,774" fill="#a0e020" stroke="#142850" stroke-opacity=".32" stroke-width="4.5"/><polygon points="680,572 711,572 775,647 791,723 744,739 680,722" fill="#30d0d0" stroke="#142850" stroke-opacity=".32" stroke-width="4.5"/><polygon points="680,835 680,722 744,739 778,806 777,807" fill="#a0e020" stroke="#142850" stroke-opacity=".32" stroke-width="4.5"/><polygon points="778,806 744,739 791,723 838,743 847,758 826,788" fill="#b0e020" stroke="#142850" stroke-opacity=".32" stroke-width="4.5"/><polygon points="1150,693 1150,740 1057,786 1012,754 1015,745 1025,735" fill="#40e040" stroke="#142850" stroke-opacity=".32" stroke-width="4.5"/><polygon points="1150,740 1150,820 1071,820 1057,786" fill="#f08020" stroke="#142850" stroke-opacity=".32" stroke-width="4.5"/><polygon points="680,847 680,835 777,807 792,879 773,884" fill="#6020c0" stroke="#142850" stroke-opacity=".32" stroke-width="4.5"/><polygon points="792,879 777,807 778,806 826,788 853,869 820,889" fill="#f0b020" stroke="#142850" stroke-opacity=".32" stroke-width="4.5"/><polygon points="982,774 1012,754 1057,786 1071,820 1054,861 1048,865 973,820" fill="#f02030" stroke="#142850" stroke-opacity=".32" stroke-width="4.5"/><polygon points="988,911 954,883 969,825 973,820 1048,865 1035,898" fill="#e02040" stroke="#142850" stroke-opacity=".32" stroke-width="4.5"/><polygon points="875,760 915,744 982,774 973,820 969,825 901,825" fill="#a0c0a0" stroke="#142850" stroke-opacity=".32" stroke-width="4.5"/><polygon points="853,869 826,788 847,758 875,760 901,825 873,871" fill="#e03030" stroke="#142850" stroke-opacity=".32" stroke-width="4.5"/><polygon points="873,871 901,825 969,825 954,883 908,900" fill="#60d060" stroke="#142850" stroke-opacity=".32" stroke-width="4.5"/><polygon points="705,1065 682,1065 773,884 792,879 820,889 820,950" fill="#a0e020" stroke="#142850" stroke-opacity=".32" stroke-width="4.5"/><polygon points="820,950 820,889 853,869 873,871 908,900 902,949 882,959" fill="#f04020" stroke="#142850" stroke-opacity=".32" stroke-width="4.5"/><polygon points="902,949 908,900 954,883 988,911 982,955 925,965" fill="#f030b0" stroke="#142850" stroke-opacity=".32" stroke-width="4.5"/><polygon points="988,963 982,955 988,911 1035,898 1104,1001" fill="#40e040" stroke="#142850" stroke-opacity=".32" stroke-width="4.5"/><polygon points="1150,899 1150,1038 1104,1001 1035,898 1048,865 1054,861" fill="#30e0d0" stroke="#142850" stroke-opacity=".32" stroke-width="4.5"/><polygon points="861,1065 705,1065 820,950 882,959" fill="#30e0a0" stroke="#142850" stroke-opacity=".32" stroke-width="4.5"/><polygon points="962,1065 942,1065 925,965 982,955 988,963" fill="#f060c0" stroke="#142850" stroke-opacity=".32" stroke-width="4.5"/><polygon points="1150,1038 1150,1065 962,1065 988,963 1104,1001" fill="#40e050" stroke="#142850" stroke-opacity=".32" stroke-width="4.5"/><polygon points="1150,820 1150,899 1054,861 1071,820" fill="#e08030" stroke="#142850" stroke-opacity=".32" stroke-width="4.5"/><polygon points="682,1065 680,1065 680,847 773,884" fill="#50e040" stroke="#142850" stroke-opacity=".32" stroke-width="4.5"/><polygon points="942,1065 861,1065 882,959 902,949 925,965" fill="#e03828" stroke="#142850" stroke-opacity=".32" stroke-width="4.5"/><polygon points="1063,572 1150,572 1150,693 1025,735 1055,585" fill="#50e040" stroke="#142850" stroke-opacity=".32" stroke-width="4.5"/></g><path d="M915.0,615.0 C923.3,615.0 925.8,595.3 940.0,592.0 C954.2,588.7 980.0,587.0 1000.0,595.0 C1020.0,603.0 1045.0,622.5 1060.0,640.0 C1075.0,657.5 1080.0,680.0 1090.0,700.0 C1100.0,720.0 1113.3,738.3 1120.0,760.0 C1126.7,781.7 1130.8,805.0 1130.0,830.0 C1129.2,855.0 1124.2,885.0 1115.0,910.0 C1105.8,935.0 1092.5,960.0 1075.0,980.0 C1057.5,1000.0 1031.7,1019.2 1010.0,1030.0 C988.3,1040.8 960.3,1045.0 945.0,1045.0 C929.7,1045.0 927.2,1030.0 918.0,1030.0 C908.8,1030.0 905.5,1045.0 890.0,1045.0 C874.5,1045.0 846.7,1040.8 825.0,1030.0 C803.3,1019.2 778.3,1000.0 760.0,980.0 C741.7,960.0 725.0,935.0 715.0,910.0 C705.0,885.0 700.8,855.0 700.0,830.0 C699.2,805.0 702.5,781.7 710.0,760.0 C717.5,738.3 735.0,720.0 745.0,700.0 C755.0,680.0 755.8,657.5 770.0,640.0 C784.2,622.5 810.0,603.0 830.0,595.0 C850.0,587.0 875.8,588.7 890.0,592.0 C904.2,595.3 906.7,615.0 915.0,615.0Z" fill="url(#bshadeU1)"/><path d="M915.0,615.0 C923.3,615.0 925.8,595.3 940.0,592.0 C954.2,588.7 980.0,587.0 1000.0,595.0 C1020.0,603.0 1045.0,622.5 1060.0,640.0 C1075.0,657.5 1080.0,680.0 1090.0,700.0 C1100.0,720.0 1113.3,738.3 1120.0,760.0 C1126.7,781.7 1130.8,805.0 1130.0,830.0 C1129.2,855.0 1124.2,885.0 1115.0,910.0 C1105.8,935.0 1092.5,960.0 1075.0,980.0 C1057.5,1000.0 1031.7,1019.2 1010.0,1030.0 C988.3,1040.8 960.3,1045.0 945.0,1045.0 C929.7,1045.0 927.2,1030.0 918.0,1030.0 C908.8,1030.0 905.5,1045.0 890.0,1045.0 C874.5,1045.0 846.7,1040.8 825.0,1030.0 C803.3,1019.2 778.3,1000.0 760.0,980.0 C741.7,960.0 725.0,935.0 715.0,910.0 C705.0,885.0 700.8,855.0 700.0,830.0 C699.2,805.0 702.5,781.7 710.0,760.0 C717.5,738.3 735.0,720.0 745.0,700.0 C755.0,680.0 755.8,657.5 770.0,640.0 C784.2,622.5 810.0,603.0 830.0,595.0 C850.0,587.0 875.8,588.7 890.0,592.0 C904.2,595.3 906.7,615.0 915.0,615.0Z" fill="none" stroke="#203060" stroke-opacity="0.35" stroke-width="14"/></g>
<path d="M916,125V568M916,600V1040" stroke="#18204a" stroke-opacity=".55" stroke-width="7" fill="none"/>
</g>
<g transform="translate(50,100) scale(0.18258) translate(-1116,508)">
<radialGradient id="bshadeB2" gradientUnits="userSpaceOnUse" cx="1420" cy="270" r="360"><stop offset="0" stop-color="#fff" stop-opacity="0.05"/><stop offset="0.55" stop-color="#fff" stop-opacity="0"/><stop offset="0.8" stop-color="#000" stop-opacity="0.05"/><stop offset="1" stop-color="#000" stop-opacity="0.38"/></radialGradient><clipPath id="cpB2"><path d="M1743.0,335.0 C1743.8,317.5 1739.7,290.0 1730.0,270.0 C1720.3,250.0 1704.2,230.8 1685.0,215.0 C1665.8,199.2 1640.0,185.0 1615.0,175.0 C1590.0,165.0 1563.3,159.2 1535.0,155.0 C1506.7,150.8 1473.3,150.0 1445.0,150.0 C1416.7,150.0 1390.0,149.2 1365.0,155.0 C1340.0,160.8 1315.8,171.7 1295.0,185.0 C1274.2,198.3 1254.2,217.5 1240.0,235.0 C1225.8,252.5 1217.2,271.7 1210.0,290.0 C1202.8,308.3 1197.0,327.5 1197.0,345.0 C1197.0,362.5 1202.0,382.5 1210.0,395.0 C1218.0,407.5 1238.3,410.0 1245.0,420.0 C1251.7,430.0 1244.2,444.2 1250.0,455.0 C1255.8,465.8 1267.5,477.5 1280.0,485.0 C1292.5,492.5 1310.0,496.7 1325.0,500.0 C1340.0,503.3 1357.5,506.7 1370.0,505.0 C1382.5,503.3 1390.8,498.3 1400.0,490.0 C1409.2,481.7 1418.3,464.2 1425.0,455.0 C1431.7,445.8 1432.5,435.0 1440.0,435.0 C1447.5,435.0 1457.5,449.2 1470.0,455.0 C1482.5,460.8 1500.0,469.2 1515.0,470.0 C1530.0,470.8 1548.3,466.7 1560.0,460.0 C1571.7,453.3 1578.3,438.3 1585.0,430.0 C1591.7,421.7 1590.0,413.3 1600.0,410.0 C1610.0,406.7 1629.2,412.5 1645.0,410.0 C1660.8,407.5 1681.7,400.8 1695.0,395.0 C1708.3,389.2 1717.0,385.0 1725.0,375.0 C1733.0,365.0 1742.2,352.5 1743.0,335.0Z"/></clipPath><g clip-path="url(#cpB2)"><g filter="url(#bblur)"><polygon points="1190,130 1301,130 1337,220 1307,245 1305,245" fill="#f08020" stroke="#142850" stroke-opacity=".32" stroke-width="4.5"/><polygon points="1177,130 1190,130 1305,245 1274,270 1185,270 1177,267" fill="#f0d020" stroke="#142850" stroke-opacity=".32" stroke-width="4.5"/><polygon points="1301,130 1379,130 1387,191 1351,220 1337,220" fill="#40e040" stroke="#142850" stroke-opacity=".32" stroke-width="4.5"/><polygon points="1379,130 1447,130 1453,204 1427,211 1387,191" fill="#30e050" stroke="#142850" stroke-opacity=".32" stroke-width="4.5"/><polygon points="1447,130 1513,130 1508,192 1459,207 1453,204" fill="#50e040" stroke="#142850" stroke-opacity=".32" stroke-width="4.5"/><polygon points="1383,262 1351,220 1387,191 1427,211 1408,258" fill="#f07020" stroke="#142850" stroke-opacity=".32" stroke-width="4.5"/><polygon points="1307,245 1337,220 1351,220 1383,262 1364,294 1338,297" fill="#f02020" stroke="#142850" stroke-opacity=".32" stroke-width="4.5"/><polygon points="1408,258 1427,211 1453,204 1459,207 1480,270 1473,283 1447,297" fill="#30e0d0" stroke="#142850" stroke-opacity=".32" stroke-width="4.5"/><polygon points="1547,248 1480,270 1459,207 1508,192 1538,212" fill="#f0e020" stroke="#142850" stroke-opacity=".32" stroke-width="4.5"/><polygon points="1473,283 1480,270 1547,248 1563,260 1535,345" fill="#f0c020" stroke="#142850" stroke-opacity=".32" stroke-width="4.5"/><polygon points="1618,218 1590,260 1563,260 1547,248 1538,212 1575,175" fill="#2080f0" stroke="#142850" stroke-opacity=".32" stroke-width="4.5"/><polygon points="1590,260 1618,218 1656,202 1673,286 1666,298 1660,302 1624,294" fill="#30d0e0" stroke="#142850" stroke-opacity=".32" stroke-width="4.5"/><polygon points="1710,130 1763,130 1763,241 1673,286 1656,202" fill="#2020e0" stroke="#142850" stroke-opacity=".32" stroke-width="4.5"/><polygon points="1581,130 1710,130 1656,202 1618,218 1575,175" fill="#4030e0" stroke="#142850" stroke-opacity=".32" stroke-width="4.5"/><polygon points="1185,270 1274,270 1288,325 1265,340" fill="#2030d0" stroke="#142850" stroke-opacity=".32" stroke-width="4.5"/><polygon points="1288,325 1274,270 1305,245 1307,245 1338,297 1320,325" fill="#2040e0" stroke="#142850" stroke-opacity=".32" stroke-width="4.5"/><polygon points="1177,382 1177,267 1185,270 1265,340 1261,357" fill="#40e040" stroke="#142850" stroke-opacity=".32" stroke-width="4.5"/><polygon points="1279,392 1261,357 1265,340 1288,325 1320,325 1347,379 1305,404" fill="#a0e020" stroke="#142850" stroke-opacity=".32" stroke-width="4.5"/><polygon points="1177,468 1177,382 1261,357 1279,392" fill="#30e040" stroke="#142850" stroke-opacity=".32" stroke-width="4.5"/><polygon points="1347,379 1320,325 1338,297 1364,294 1392,322 1382,384 1382,384 1378,386" fill="#90e020" stroke="#142850" stroke-opacity=".32" stroke-width="4.5"/><polygon points="1453,356 1444,301 1447,297 1473,283 1535,345 1535,347 1530,354 1474,370" fill="#f040e0" stroke="#142850" stroke-opacity=".32" stroke-width="4.5"/><polygon points="1382,384 1392,322 1444,301 1453,356" fill="#40e040" stroke="#142850" stroke-opacity=".32" stroke-width="4.5"/><polygon points="1535,347 1535,345 1563,260 1590,260 1624,294 1576,356" fill="#30e050" stroke="#142850" stroke-opacity=".32" stroke-width="4.5"/><polygon points="1576,356 1624,294 1660,302 1660,340 1610,390" fill="#40e0c0" stroke="#142850" stroke-opacity=".32" stroke-width="4.5"/><polygon points="1763,347 1763,385 1695,375 1660,340 1660,302 1666,298" fill="#40e030" stroke="#142850" stroke-opacity=".32" stroke-width="4.5"/><polygon points="1622,448 1610,390 1660,340 1695,375" fill="#50e040" stroke="#142850" stroke-opacity=".32" stroke-width="4.5"/><polygon points="1382,384 1382,384 1453,356 1474,370 1467,416 1442,432" fill="#f0a030" stroke="#142850" stroke-opacity=".32" stroke-width="4.5"/><polygon points="1467,416 1474,370 1530,354 1530,410 1508,432" fill="#f09030" stroke="#142850" stroke-opacity=".32" stroke-width="4.5"/><polygon points="1530,410 1530,354 1535,347 1576,356 1610,390 1622,448 1621,456" fill="#b0e020" stroke="#142850" stroke-opacity=".32" stroke-width="4.5"/><polygon points="1361,491 1305,435 1305,404 1347,379 1378,386" fill="#20e0a0" stroke="#142850" stroke-opacity=".32" stroke-width="4.5"/><polygon points="1185,525 1177,525 1177,468 1279,392 1305,404 1305,435" fill="#e020c0" stroke="#142850" stroke-opacity=".32" stroke-width="4.5"/><polygon points="1371,525 1185,525 1305,435 1361,491" fill="#8020e0" stroke="#142850" stroke-opacity=".32" stroke-width="4.5"/><polygon points="1635,525 1523,525 1508,432 1530,410 1621,456" fill="#f02040" stroke="#142850" stroke-opacity=".32" stroke-width="4.5"/><polygon points="1523,525 1430,525 1442,432 1467,416 1508,432" fill="#e03030" stroke="#142850" stroke-opacity=".32" stroke-width="4.5"/><polygon points="1763,385 1763,525 1635,525 1621,456 1622,448 1695,375" fill="#a020c0" stroke="#142850" stroke-opacity=".32" stroke-width="4.5"/><polygon points="1513,130 1581,130 1575,175 1538,212 1508,192" fill="#8030e0" stroke="#142850" stroke-opacity=".32" stroke-width="4.5"/><polygon points="1763,241 1763,346 1666,298 1673,286" fill="#2828e0" stroke="#142850" stroke-opacity=".32" stroke-width="4.5"/><polygon points="1364,294 1383,262 1408,258 1447,297 1444,301 1392,322" fill="#30d8c8" stroke="#142850" stroke-opacity=".32" stroke-width="4.5"/><polygon points="1430,525 1371,525 1361,491 1378,386 1382,384 1442,432" fill="#30e080" stroke="#142850" stroke-opacity=".32" stroke-width="4.5"/></g><path d="M1743.0,335.0 C1743.8,317.5 1739.7,290.0 1730.0,270.0 C1720.3,250.0 1704.2,230.8 1685.0,215.0 C1665.8,199.2 1640.0,185.0 1615.0,175.0 C1590.0,165.0 1563.3,159.2 1535.0,155.0 C1506.7,150.8 1473.3,150.0 1445.0,150.0 C1416.7,150.0 1390.0,149.2 1365.0,155.0 C1340.0,160.8 1315.8,171.7 1295.0,185.0 C1274.2,198.3 1254.2,217.5 1240.0,235.0 C1225.8,252.5 1217.2,271.7 1210.0,290.0 C1202.8,308.3 1197.0,327.5 1197.0,345.0 C1197.0,362.5 1202.0,382.5 1210.0,395.0 C1218.0,407.5 1238.3,410.0 1245.0,420.0 C1251.7,430.0 1244.2,444.2 1250.0,455.0 C1255.8,465.8 1267.5,477.5 1280.0,485.0 C1292.5,492.5 1310.0,496.7 1325.0,500.0 C1340.0,503.3 1357.5,506.7 1370.0,505.0 C1382.5,503.3 1390.8,498.3 1400.0,490.0 C1409.2,481.7 1418.3,464.2 1425.0,455.0 C1431.7,445.8 1432.5,435.0 1440.0,435.0 C1447.5,435.0 1457.5,449.2 1470.0,455.0 C1482.5,460.8 1500.0,469.2 1515.0,470.0 C1530.0,470.8 1548.3,466.7 1560.0,460.0 C1571.7,453.3 1578.3,438.3 1585.0,430.0 C1591.7,421.7 1590.0,413.3 1600.0,410.0 C1610.0,406.7 1629.2,412.5 1645.0,410.0 C1660.8,407.5 1681.7,400.8 1695.0,395.0 C1708.3,389.2 1717.0,385.0 1725.0,375.0 C1733.0,365.0 1742.2,352.5 1743.0,335.0Z" fill="url(#bshadeB2)"/><path d="M1743.0,335.0 C1743.8,317.5 1739.7,290.0 1730.0,270.0 C1720.3,250.0 1704.2,230.8 1685.0,215.0 C1665.8,199.2 1640.0,185.0 1615.0,175.0 C1590.0,165.0 1563.3,159.2 1535.0,155.0 C1506.7,150.8 1473.3,150.0 1445.0,150.0 C1416.7,150.0 1390.0,149.2 1365.0,155.0 C1340.0,160.8 1315.8,171.7 1295.0,185.0 C1274.2,198.3 1254.2,217.5 1240.0,235.0 C1225.8,252.5 1217.2,271.7 1210.0,290.0 C1202.8,308.3 1197.0,327.5 1197.0,345.0 C1197.0,362.5 1202.0,382.5 1210.0,395.0 C1218.0,407.5 1238.3,410.0 1245.0,420.0 C1251.7,430.0 1244.2,444.2 1250.0,455.0 C1255.8,465.8 1267.5,477.5 1280.0,485.0 C1292.5,492.5 1310.0,496.7 1325.0,500.0 C1340.0,503.3 1357.5,506.7 1370.0,505.0 C1382.5,503.3 1390.8,498.3 1400.0,490.0 C1409.2,481.7 1418.3,464.2 1425.0,455.0 C1431.7,445.8 1432.5,435.0 1440.0,435.0 C1447.5,435.0 1457.5,449.2 1470.0,455.0 C1482.5,460.8 1500.0,469.2 1515.0,470.0 C1530.0,470.8 1548.3,466.7 1560.0,460.0 C1571.7,453.3 1578.3,438.3 1585.0,430.0 C1591.7,421.7 1590.0,413.3 1600.0,410.0 C1610.0,406.7 1629.2,412.5 1645.0,410.0 C1660.8,407.5 1681.7,400.8 1695.0,395.0 C1708.3,389.2 1717.0,385.0 1725.0,375.0 C1733.0,365.0 1742.2,352.5 1743.0,335.0Z" fill="none" stroke="#203060" stroke-opacity="0.35" stroke-width="14"/></g>
</g>
<g transform="translate(50,100) scale(0.18258) translate(1119,508)">
<radialGradient id="bshadeA2" gradientUnits="userSpaceOnUse" cx="300" cy="270" r="360"><stop offset="0" stop-color="#fff" stop-opacity="0.05"/><stop offset="0.55" stop-color="#fff" stop-opacity="0"/><stop offset="0.8" stop-color="#000" stop-opacity="0.05"/><stop offset="1" stop-color="#000" stop-opacity="0.38"/></radialGradient><clipPath id="cpA2"><path d="M82.0,335.0 C81.2,317.5 85.3,290.0 95.0,270.0 C104.7,250.0 120.8,230.8 140.0,215.0 C159.2,199.2 185.0,185.0 210.0,175.0 C235.0,165.0 261.7,159.2 290.0,155.0 C318.3,150.8 351.7,150.0 380.0,150.0 C408.3,150.0 435.0,149.2 460.0,155.0 C485.0,160.8 509.2,171.7 530.0,185.0 C550.8,198.3 570.8,217.5 585.0,235.0 C599.2,252.5 607.8,271.7 615.0,290.0 C622.2,308.3 628.0,327.5 628.0,345.0 C628.0,362.5 623.0,382.5 615.0,395.0 C607.0,407.5 586.7,410.0 580.0,420.0 C573.3,430.0 580.8,444.2 575.0,455.0 C569.2,465.8 557.5,477.5 545.0,485.0 C532.5,492.5 515.0,496.7 500.0,500.0 C485.0,503.3 467.5,506.7 455.0,505.0 C442.5,503.3 434.2,498.3 425.0,490.0 C415.8,481.7 406.7,464.2 400.0,455.0 C393.3,445.8 392.5,435.0 385.0,435.0 C377.5,435.0 367.5,449.2 355.0,455.0 C342.5,460.8 325.0,469.2 310.0,470.0 C295.0,470.8 276.7,466.7 265.0,460.0 C253.3,453.3 246.7,438.3 240.0,430.0 C233.3,421.7 235.0,413.3 225.0,410.0 C215.0,406.7 195.8,412.5 180.0,410.0 C164.2,407.5 143.3,400.8 130.0,395.0 C116.7,389.2 108.0,385.0 100.0,375.0 C92.0,365.0 82.8,352.5 82.0,335.0Z"/></clipPath><g clip-path="url(#cpA2)"><g filter="url(#bblur)"><polygon points="172,233 186,263 149,307 145,305 105,185" fill="#2a6ae0" stroke="#142850" stroke-opacity=".32" stroke-width="4.5"/><polygon points="232,211 249,286 236,288 186,263 172,233" fill="#2060e0" stroke="#142850" stroke-opacity=".32" stroke-width="4.5"/><polygon points="157,325 149,307 186,263 236,288 195,334" fill="#30d8a8" stroke="#142850" stroke-opacity=".32" stroke-width="4.5"/><polygon points="62,396 62,305 145,305 149,307 157,325 134,363" fill="#40d060" stroke="#142850" stroke-opacity=".32" stroke-width="4.5"/><polygon points="134,363 157,325 195,334 209,377 200,401" fill="#a8d820" stroke="#142850" stroke-opacity=".32" stroke-width="4.5"/><polygon points="209,377 195,334 236,288 249,286 253,287 281,332 280,349" fill="#98d828" stroke="#142850" stroke-opacity=".32" stroke-width="4.5"/><polygon points="257,161 292,254 253,287 249,286 232,211" fill="#3050e0" stroke="#142850" stroke-opacity=".32" stroke-width="4.5"/><polygon points="262,130 269,130 340,210 296,254 292,254 257,161" fill="#e8a020" stroke="#142850" stroke-opacity=".32" stroke-width="4.5"/><polygon points="281,332 253,287 292,254 296,254 355,290 360,299 358,304" fill="#e0a828" stroke="#142850" stroke-opacity=".32" stroke-width="4.5"/><polygon points="355,290 296,254 340,210 345,210 355,218" fill="#b8e020" stroke="#142850" stroke-opacity=".32" stroke-width="4.5"/><polygon points="398,130 415,130 422,165 403,222 355,218 345,210" fill="#30e040" stroke="#142850" stroke-opacity=".32" stroke-width="4.5"/><polygon points="269,130 398,130 345,210 340,210" fill="#40e050" stroke="#142850" stroke-opacity=".32" stroke-width="4.5"/><polygon points="415,130 502,130 490,209 482,212 422,165" fill="#f02020" stroke="#142850" stroke-opacity=".32" stroke-width="4.5"/><polygon points="360,299 355,290 355,218 403,222 403,223 386,290" fill="#2050e0" stroke="#142850" stroke-opacity=".32" stroke-width="4.5"/><polygon points="386,290 403,223 457,250 458,259 428,299" fill="#20e030" stroke="#142850" stroke-opacity=".32" stroke-width="4.5"/><polygon points="458,259 457,250 482,212 490,209 522,218 550,268 546,272 502,285" fill="#ff5010" stroke="#142850" stroke-opacity=".32" stroke-width="4.5"/><polygon points="599,130 648,130 648,226 559,268 550,268 522,218" fill="#2828e8" stroke="#142850" stroke-opacity=".32" stroke-width="4.5"/><polygon points="502,130 599,130 522,218 490,209" fill="#3030e0" stroke="#142850" stroke-opacity=".32" stroke-width="4.5"/><polygon points="590,329 545,363 536,352 546,271 550,268 559,268" fill="#3838f0" stroke="#142850" stroke-opacity=".32" stroke-width="4.5"/><polygon points="648,339 648,447 547,382 545,363 590,329" fill="#40e020" stroke="#142850" stroke-opacity=".32" stroke-width="4.5"/><polygon points="502,285 546,272 536,352 487,334" fill="#2070f0" stroke="#142850" stroke-opacity=".32" stroke-width="4.5"/><polygon points="369,358 358,304 360,299 386,290 428,299 434,312 410,360 389,367" fill="#f020b0" stroke="#142850" stroke-opacity=".32" stroke-width="4.5"/><polygon points="280,349 281,332 358,304 369,358 338,381 288,364" fill="#f040c0" stroke="#142850" stroke-opacity=".32" stroke-width="4.5"/><polygon points="410,360 434,312 477,338 461,386" fill="#ff30ff" stroke="#142850" stroke-opacity=".32" stroke-width="4.5"/><polygon points="466,403 461,386 477,338 487,334 536,352 545,363 547,382 497,419" fill="#20d0e0" stroke="#142850" stroke-opacity=".32" stroke-width="4.5"/><polygon points="316,515 280,397 288,364 338,381 346,471" fill="#5020e0" stroke="#142850" stroke-opacity=".32" stroke-width="4.5"/><polygon points="312,525 178,525 202,423 280,397 316,515" fill="#6030d0" stroke="#142850" stroke-opacity=".32" stroke-width="4.5"/><polygon points="389,367 410,360 461,386 466,403 418,435 403,435" fill="#90e020" stroke="#142850" stroke-opacity=".32" stroke-width="4.5"/><polygon points="418,435 466,403 498,419 504,446 459,491" fill="#3020e0" stroke="#142850" stroke-opacity=".32" stroke-width="4.5"/><polygon points="648,447 648,525 609,525 504,446 498,419 547,382" fill="#f03020" stroke="#142850" stroke-opacity=".32" stroke-width="4.5"/><polygon points="609,525 455,525 459,491 504,446" fill="#f0a020" stroke="#142850" stroke-opacity=".32" stroke-width="4.5"/><polygon points="455,525 312,525 316,515 346,471 403,435 418,435 459,491" fill="#a0d020" stroke="#142850" stroke-opacity=".32" stroke-width="4.5"/><polygon points="178,525 62,525 62,396 134,363 200,401 202,423" fill="#d04040" stroke="#142850" stroke-opacity=".32" stroke-width="4.5"/><polygon points="200,401 209,377 280,349 288,364 280,397 202,423" fill="#f0a020" stroke="#142850" stroke-opacity=".32" stroke-width="4.5"/><polygon points="62,130 262,130 257,161 232,211 172,233 105,185 62,142" fill="#30c0e0" stroke="#142850" stroke-opacity=".32" stroke-width="4.5"/><polygon points="105,185 145,305 62,305 62,142" fill="#2090e0" stroke="#142850" stroke-opacity=".32" stroke-width="4.5"/><polygon points="457,250 403,223 403,222 422,165 482,212" fill="#30d040" stroke="#142850" stroke-opacity=".32" stroke-width="4.5"/><polygon points="428,299 458,259 502,285 487,334 477,338 434,312" fill="#ff5818" stroke="#142850" stroke-opacity=".32" stroke-width="4.5"/><polygon points="346,471 338,381 369,358 389,367 403,435" fill="#6028e0" stroke="#142850" stroke-opacity=".32" stroke-width="4.5"/><polygon points="648,226 648,339 590,329 559,268" fill="#3030e8" stroke="#142850" stroke-opacity=".32" stroke-width="4.5"/></g><path d="M82.0,335.0 C81.2,317.5 85.3,290.0 95.0,270.0 C104.7,250.0 120.8,230.8 140.0,215.0 C159.2,199.2 185.0,185.0 210.0,175.0 C235.0,165.0 261.7,159.2 290.0,155.0 C318.3,150.8 351.7,150.0 380.0,150.0 C408.3,150.0 435.0,149.2 460.0,155.0 C485.0,160.8 509.2,171.7 530.0,185.0 C550.8,198.3 570.8,217.5 585.0,235.0 C599.2,252.5 607.8,271.7 615.0,290.0 C622.2,308.3 628.0,327.5 628.0,345.0 C628.0,362.5 623.0,382.5 615.0,395.0 C607.0,407.5 586.7,410.0 580.0,420.0 C573.3,430.0 580.8,444.2 575.0,455.0 C569.2,465.8 557.5,477.5 545.0,485.0 C532.5,492.5 515.0,496.7 500.0,500.0 C485.0,503.3 467.5,506.7 455.0,505.0 C442.5,503.3 434.2,498.3 425.0,490.0 C415.8,481.7 406.7,464.2 400.0,455.0 C393.3,445.8 392.5,435.0 385.0,435.0 C377.5,435.0 367.5,449.2 355.0,455.0 C342.5,460.8 325.0,469.2 310.0,470.0 C295.0,470.8 276.7,466.7 265.0,460.0 C253.3,453.3 246.7,438.3 240.0,430.0 C233.3,421.7 235.0,413.3 225.0,410.0 C215.0,406.7 195.8,412.5 180.0,410.0 C164.2,407.5 143.3,400.8 130.0,395.0 C116.7,389.2 108.0,385.0 100.0,375.0 C92.0,365.0 82.8,352.5 82.0,335.0Z" fill="url(#bshadeA2)"/><path d="M82.0,335.0 C81.2,317.5 85.3,290.0 95.0,270.0 C104.7,250.0 120.8,230.8 140.0,215.0 C159.2,199.2 185.0,185.0 210.0,175.0 C235.0,165.0 261.7,159.2 290.0,155.0 C318.3,150.8 351.7,150.0 380.0,150.0 C408.3,150.0 435.0,149.2 460.0,155.0 C485.0,160.8 509.2,171.7 530.0,185.0 C550.8,198.3 570.8,217.5 585.0,235.0 C599.2,252.5 607.8,271.7 615.0,290.0 C622.2,308.3 628.0,327.5 628.0,345.0 C628.0,362.5 623.0,382.5 615.0,395.0 C607.0,407.5 586.7,410.0 580.0,420.0 C573.3,430.0 580.8,444.2 575.0,455.0 C569.2,465.8 557.5,477.5 545.0,485.0 C532.5,492.5 515.0,496.7 500.0,500.0 C485.0,503.3 467.5,506.7 455.0,505.0 C442.5,503.3 434.2,498.3 425.0,490.0 C415.8,481.7 406.7,464.2 400.0,455.0 C393.3,445.8 392.5,435.0 385.0,435.0 C377.5,435.0 367.5,449.2 355.0,455.0 C342.5,460.8 325.0,469.2 310.0,470.0 C295.0,470.8 276.7,466.7 265.0,460.0 C253.3,453.3 246.7,438.3 240.0,430.0 C233.3,421.7 235.0,413.3 225.0,410.0 C215.0,406.7 195.8,412.5 180.0,410.0 C164.2,407.5 143.3,400.8 130.0,395.0 C116.7,389.2 108.0,385.0 100.0,375.0 C92.0,365.0 82.8,352.5 82.0,335.0Z" fill="none" stroke="#203060" stroke-opacity="0.35" stroke-width="14"/></g>
</g>
<path d="M205,323.6H219.5V337.9H233.5V352.8H219.5V367H205V352.8H191V337.9H205Z" fill="#4472c4" stroke="#3560b0" stroke-width="1"/>
<path d="M399.9,329.8H446.2V324.8L456.6,335L446.2,345.2V340.2H399.9Z" fill="#4472c4" stroke="#3560b0" stroke-width="0.8"/>
<polyline points="68.7,402.1 73.7,481.3 75.6,482.9 79.0,445.1 81.3,461.8 84.3,419.8 87.1,465.3 89.3,477.9 92.1,469.8 94.6,397.5 97.1,464.1 99.7,452.6 102.2,481.3 105.2,446.9 107.7,484.8 110.2,474.4 113.4,446.9 118.0,450.3 121.0,400.3 123.8,419.3 126.1,401.7 128.8,412.5 136.4,502.0 142.6,458.4 144.9,456.1 147.9,393.4 150.2,396.4 152.9,437.7 155.4,440.0 158.0,497.4 163.2,396.4 165.8,483.6 167.6,488.2 173.6,436.6 176.6,458.4 179.3,460.7 181.6,475.6 184.6,401.0 190.3,497.4 192.6,500.8 194.9,508.4 197.7,399.8 200.7,465.3 205.3,442.3 211.0,508.4 213.7,433.1 215.6,446.9 217.9,485.9 221.3,487.1 224.3,425.1 227.1,420.5 229.4,444.6 231.6,446.9 234.4,460.7 239.7,422.8 242.4,474.4 245.0,437.7 247.7,502.0 250.0,456.1 252.3,458.4 255.7,401.0 258.5,437.7 261.5,467.5 266.1,481.3 269.1,404.4 271.8,451.5 274.6,458.4 278.7,479.0 282.1,481.3 285.6,485.9 290.2,410.2 292.5,407.9 295.5,432.0 298.2,396.4 301.0,397.5 303.9,425.1 306.2,415.9 308.5,468.7 311.3,417.1 314.3,502.0 317.7,471.0 320.0,468.7 321.8,493.9 324.6,396.4 328.0,460.7 330.3,458.4 333.1,415.9 334.9,456.1 339.5,432.0 343.4,504.3 347.6,396.4 350.5,437.7 353.3,398.7 356.7,397.5 361.3,437.7 364.1,411.3 366.4,508.4 369.4,420.5 372.8,499.7 375.1,504.3 378.5,465.3" fill="none" stroke="#ee1018" stroke-width="1.6" stroke-linejoin="round"/>
<rect x="67.3" y="391.3" width="101.9" height="116.9" fill="none" stroke="#264f9e" stroke-width="1.9"/>
<rect x="216.0" y="387.9" width="101.9" height="115.7" fill="none" stroke="#264f9e" stroke-width="1.9"/>
<rect x="231.2" y="389.3" width="101.9" height="115.7" fill="none" stroke="#264f9e" stroke-width="1.9"/>
<rect x="245.9" y="390.7" width="101.9" height="115.7" fill="none" stroke="#264f9e" stroke-width="1.9"/>
<rect x="260.8" y="391.8" width="101.9" height="115.7" fill="none" stroke="#264f9e" stroke-width="1.9"/>
<rect x="276.4" y="393.2" width="101.9" height="115.7" fill="none" stroke="#264f9e" stroke-width="1.9"/>
<rect x="294.3" y="394.6" width="101.9" height="115.7" fill="none" stroke="#264f9e" stroke-width="1.9"/>
<clipPath id="hexclip"><polygon points="560.2,320.6 658.5,135.5 676.7,176.0 695.8,135.5 713.6,176.0 732.0,135.5 749.4,176.0 769.3,135.5 787.4,176.0 806.5,135.5 824.3,176.0 843.5,135.5 860.8,176.0 880.5,135.5 954.6,373.2 858.7,560.0 844.8,518.0 821.3,560.0 807.6,518.0 784.3,560.0 770.9,518.0 748.1,560.0 733.2,518.0 710.4,560.0 696.5,518.0 673.2,560.0 659.5,518.0 636.5,560.0"/></clipPath>
<filter id="tx1" x="0" y="0" width="100%" height="100%" color-interpolation-filters="sRGB"><feTurbulence type="fractalNoise" baseFrequency="0.38 0.085" numOctaves="2" seed="3"/><feColorMatrix type="matrix" values="1 0 0 0 0  1 0 0 0 0  1 0 0 0 0  0 0 0 0 1" result="a"/><feTurbulence type="fractalNoise" baseFrequency="0.11 0.02" numOctaves="2" seed="23"/><feColorMatrix type="matrix" values="1 0 0 0 0  1 0 0 0 0  1 0 0 0 0  0 0 0 0 1" result="b"/><feComposite in="a" in2="b" operator="arithmetic" k1="0" k2="0.78" k3="0.6" k4="-0.19"/><feComponentTransfer><feFuncR type="table" tableValues="0.033 0.033 0.033 0.033 0.033 0.033 0.033 0.033 0.033 0.033 0.033 0.033 0.033 0.033 0.026 0.074 0.063 0.024 0.033 0.124 0.262 0.434 0.593 0.730 0.853 0.969 0.991 0.966 0.966 0.966 0.966 0.966 0.966 0.966 0.966 0.966 0.966 0.966 0.966 0.966 0.966"/><feFuncG type="table" tableValues="0.375 0.375 0.375 0.375 0.375 0.375 0.375 0.375 0.375 0.375 0.375 0.375 0.375 0.375 0.436 0.494 0.558 0.626 0.670 0.704 0.732 0.748 0.748 0.740 0.730 0.731 0.798 0.861 0.861 0.861 0.861 0.861 0.861 0.861 0.861 0.861 0.861 0.861 0.861 0.861 0.861"/><feFuncB type="table" tableValues="0.876 0.876 0.876 0.876 0.876 0.876 0.876 0.876 0.876 0.876 0.876 0.876 0.876 0.876 0.875 0.844 0.824 0.806 0.751 0.679 0.594 0.507 0.440 0.386 0.335 0.270 0.187 0.138 0.138 0.138 0.138 0.138 0.138 0.138 0.138 0.138 0.138 0.138 0.138 0.138 0.138"/></feComponentTransfer></filter>
<filter id="tx2" x="0" y="0" width="100%" height="100%" color-interpolation-filters="sRGB"><feTurbulence type="fractalNoise" baseFrequency="0.38 0.085" numOctaves="2" seed="11"/><feColorMatrix type="matrix" values="1 0 0 0 0  1 0 0 0 0  1 0 0 0 0  0 0 0 0 1" result="a"/><feTurbulence type="fractalNoise" baseFrequency="0.11 0.02" numOctaves="2" seed="31"/><feColorMatrix type="matrix" values="1 0 0 0 0  1 0 0 0 0  1 0 0 0 0  0 0 0 0 1" result="b"/><feComposite in="a" in2="b" operator="arithmetic" k1="0" k2="0.78" k3="0.6" k4="-0.19"/><feComponentTransfer><feFuncR type="table" tableValues="0.033 0.033 0.033 0.033 0.033 0.033 0.033 0.033 0.033 0.033 0.033 0.033 0.033 0.033 0.026 0.074 0.063 0.024 0.033 0.124 0.262 0.434 0.593 0.730 0.853 0.969 0.991 0.966 0.966 0.966 0.966 0.966 0.966 0.966 0.966 0.966 0.966 0.966 0.966 0.966 0.966"/><feFuncG type="table" tableValues="0.375 0.375 0.375 0.375 0.375 0.375 0.375 0.375 0.375 0.375 0.375 0.375 0.375 0.375 0.436 0.494 0.558 0.626 0.670 0.704 0.732 0.748 0.748 0.740 0.730 0.731 0.798 0.861 0.861 0.861 0.861 0.861 0.861 0.861 0.861 0.861 0.861 0.861 0.861 0.861 0.861"/><feFuncB type="table" tableValues="0.876 0.876 0.876 0.876 0.876 0.876 0.876 0.876 0.876 0.876 0.876 0.876 0.876 0.876 0.875 0.844 0.824 0.806 0.751 0.679 0.594 0.507 0.440 0.386 0.335 0.270 0.187 0.138 0.138 0.138 0.138 0.138 0.138 0.138 0.138 0.138 0.138 0.138 0.138 0.138 0.138"/></feComponentTransfer></filter>
<filter id="txm" x="0" y="0" width="100%" height="100%" color-interpolation-filters="sRGB"><feTurbulence type="fractalNoise" baseFrequency="0.12 0.05" numOctaves="2" seed="5"/><feColorMatrix type="matrix" values="0 0 0 0 1  0 0 0 0 1  0 0 0 0 1  14 0 0 0 -6.6"/></filter>
<mask id="txmask"><g transform="rotate(-17 757 350)"><rect x="440" y="0" width="640" height="700" filter="url(#txm)"/></g></mask>
<g clip-path="url(#hexclip)">
<rect x="540" y="110" width="440" height="480" fill="#5fa8a0"/>
<g transform="rotate(28 757 350)"><rect x="400" y="0" width="720" height="700" filter="url(#tx1)"/></g>
<g mask="url(#txmask)"><g transform="rotate(-17 757 350)"><rect x="400" y="0" width="720" height="700" filter="url(#tx2)"/></g></g>
<line x1="560.2" y1="320.6" x2="954.6" y2="373.2" stroke="#f4f01a" stroke-width="1.8" stroke-dasharray="34 7 70 16 22 9 90 12 40 20"/>
</g>
<g transform="translate(620,0) scale(0.15649)" fill="none" stroke="#1f4590" stroke-width="14" stroke-linecap="round">
<path d="M210,788 C250,560 300,465 360,465 C450,465 560,640 697,767"/>
<path d="M222,760 C300,500 400,303 510,303 C640,303 850,560 915,800"/>
<path d="M235,730 C350,500 560,237 715,237 C850,237 1000,560 1120,730"/>
<path d="M240,720 C400,520 800,200 1000,200 C1180,200 1230,560 1350,748"/>
<path d="M275,790 C600,600 1150,200 1400,200 C1620,200 1672,500 1672,715"/>
</g>
<path d="M1005,375H1070.4V368.8L1081.7,379.8L1070.4,390.7V384.1H1005Z" fill="#4472c4" stroke="#3560b0" stroke-width="0.8"/>
<path d="M74.3,865.0V1241.8H551.5" fill="none" stroke="#444" stroke-width="1.4"/>
<line x1="74.3" y1="1241.8" x2="74.3" y2="1237.3" stroke="#444" stroke-width="1"/>
<text x="74.3" y="1262.0" font-size="15.2" text-anchor="middle" fill="#333">-2</text>
<line x1="127.3" y1="1241.8" x2="127.3" y2="1237.3" stroke="#444" stroke-width="1"/>
<text x="127.3" y="1262.0" font-size="15.2" text-anchor="middle" fill="#333">-1.5</text>
<line x1="180.3" y1="1241.8" x2="180.3" y2="1237.3" stroke="#444" stroke-width="1"/>
<text x="180.3" y="1262.0" font-size="15.2" text-anchor="middle" fill="#333">-1</text>
<line x1="233.4" y1="1241.8" x2="233.4" y2="1237.3" stroke="#444" stroke-width="1"/>
<text x="233.4" y="1262.0" font-size="15.2" text-anchor="middle" fill="#333">-0.5</text>
<line x1="286.4" y1="1241.8" x2="286.4" y2="1237.3" stroke="#444" stroke-width="1"/>
<text x="286.4" y="1262.0" font-size="15.2" text-anchor="middle" fill="#333">0</text>
<line x1="339.4" y1="1241.8" x2="339.4" y2="1237.3" stroke="#444" stroke-width="1"/>
<text x="339.4" y="1262.0" font-size="15.2" text-anchor="middle" fill="#333">0.5</text>
<line x1="392.4" y1="1241.8" x2="392.4" y2="1237.3" stroke="#444" stroke-width="1"/>
<text x="392.4" y="1262.0" font-size="15.2" text-anchor="middle" fill="#333">1</text>
<line x1="445.5" y1="1241.8" x2="445.5" y2="1237.3" stroke="#444" stroke-width="1"/>
<text x="445.5" y="1262.0" font-size="15.2" text-anchor="middle" fill="#333">1.5</text>
<line x1="498.5" y1="1241.8" x2="498.5" y2="1237.3" stroke="#444" stroke-width="1"/>
<text x="498.5" y="1262.0" font-size="15.2" text-anchor="middle" fill="#333">2</text>
<line x1="551.5" y1="1241.8" x2="551.5" y2="1237.3" stroke="#444" stroke-width="1"/>
<text x="551.5" y="1262.0" font-size="15.2" text-anchor="middle" fill="#333">2.5</text>
<line x1="74.3" y1="865.0" x2="78.8" y2="865.0" stroke="#444" stroke-width="1"/>
<text x="67.3" y="870.2" font-size="15.2" text-anchor="end" fill="#333">2</text>
<line x1="74.3" y1="912.1" x2="78.8" y2="912.1" stroke="#444" stroke-width="1"/>
<text x="67.3" y="917.3" font-size="15.2" text-anchor="end" fill="#333">1.5</text>
<line x1="74.3" y1="959.2" x2="78.8" y2="959.2" stroke="#444" stroke-width="1"/>
<text x="67.3" y="964.4" font-size="15.2" text-anchor="end" fill="#333">1</text>
<line x1="74.3" y1="1006.3" x2="78.8" y2="1006.3" stroke="#444" stroke-width="1"/>
<text x="67.3" y="1011.5" font-size="15.2" text-anchor="end" fill="#333">0.5</text>
<line x1="74.3" y1="1053.4" x2="78.8" y2="1053.4" stroke="#444" stroke-width="1"/>
<text x="67.3" y="1058.6" font-size="15.2" text-anchor="end" fill="#333">0</text>
<line x1="74.3" y1="1100.5" x2="78.8" y2="1100.5" stroke="#444" stroke-width="1"/>
<text x="67.3" y="1105.7" font-size="15.2" text-anchor="end" fill="#333">-0.5</text>
<line x1="74.3" y1="1147.6" x2="78.8" y2="1147.6" stroke="#444" stroke-width="1"/>
<text x="67.3" y="1152.8" font-size="15.2" text-anchor="end" fill="#333">-1</text>
<line x1="74.3" y1="1194.7" x2="78.8" y2="1194.7" stroke="#444" stroke-width="1"/>
<text x="67.3" y="1199.9" font-size="15.2" text-anchor="end" fill="#333">-1.5</text>
<line x1="74.3" y1="1241.8" x2="78.8" y2="1241.8" stroke="#444" stroke-width="1"/>
<text x="67.3" y="1247.0" font-size="15.2" text-anchor="end" fill="#333">-2</text>
<circle cx="285.3" cy="1062.7" r="4.2" fill="#352a87"/>
<circle cx="284.6" cy="1066.5" r="4.2" fill="#362e8d"/>
<circle cx="280.7" cy="1068.0" r="4.2" fill="#363194"/>
<circle cx="273.9" cy="1069.2" r="4.2" fill="#36349a"/>
<circle cx="263.9" cy="1069.6" r="4.2" fill="#3637a1"/>
<circle cx="253.2" cy="1065.4" r="4.2" fill="#353aa8"/>
<circle cx="246.3" cy="1058.8" r="4.2" fill="#353eae"/>
<circle cx="243.2" cy="1045.1" r="4.2" fill="#3341b5"/>
<circle cx="233.6" cy="1026.7" r="4.2" fill="#3145bc"/>
<circle cx="195.3" cy="962.7" r="4.2" fill="#2e48c3"/>
<circle cx="192.3" cy="943.2" r="4.2" fill="#294cc9"/>
<circle cx="198.4" cy="926.3" r="4.2" fill="#2350d0"/>
<circle cx="205.3" cy="918.3" r="4.2" fill="#1c55d6"/>
<circle cx="214.1" cy="914.1" r="4.2" fill="#135adb"/>
<circle cx="217.9" cy="916.7" r="4.2" fill="#0c5ede"/>
<circle cx="219.5" cy="921.7" r="4.2" fill="#0561e0"/>
<circle cx="220.6" cy="928.6" r="4.2" fill="#0365e1"/>
<circle cx="218.3" cy="944.7" r="4.2" fill="#0267e1"/>
<circle cx="222.1" cy="962.7" r="4.2" fill="#036ae1"/>
<circle cx="228.3" cy="984.5" r="4.2" fill="#046ce0"/>
<circle cx="231.3" cy="999.5" r="4.2" fill="#066fdf"/>
<circle cx="238.6" cy="1006.8" r="4.2" fill="#0871de"/>
<circle cx="250.9" cy="1009.1" r="4.2" fill="#0a73dd"/>
<circle cx="267.7" cy="1005.6" r="4.2" fill="#0d75dc"/>
<circle cx="286.1" cy="1001.0" r="4.2" fill="#0e77db"/>
<circle cx="306.4" cy="993.7" r="4.2" fill="#1079da"/>
<circle cx="335.1" cy="986.8" r="4.2" fill="#117bd9"/>
<circle cx="359.3" cy="982.2" r="4.2" fill="#137dd8"/>
<circle cx="384.2" cy="981.1" r="4.2" fill="#137fd7"/>
<circle cx="398.7" cy="985.3" r="4.2" fill="#1481d6"/>
<circle cx="409.8" cy="992.6" r="4.2" fill="#1483d5"/>
<circle cx="416.7" cy="999.1" r="4.2" fill="#1485d4"/>
<circle cx="419.4" cy="1008.7" r="4.2" fill="#1388d3"/>
<circle cx="416.7" cy="1017.5" r="4.2" fill="#138ad3"/>
<circle cx="410.2" cy="1024.8" r="4.2" fill="#118dd2"/>
<circle cx="397.9" cy="1035.1" r="4.2" fill="#0f8fd2"/>
<circle cx="383.8" cy="1047.0" r="4.2" fill="#0d92d2"/>
<circle cx="367.7" cy="1060.0" r="4.2" fill="#0b94d2"/>
<circle cx="352.8" cy="1072.6" r="4.2" fill="#0a97d1"/>
<circle cx="343.6" cy="1087.6" r="4.2" fill="#0899d1"/>
<circle cx="339.7" cy="1105.6" r="4.2" fill="#079cd0"/>
<circle cx="337.8" cy="1126.3" r="4.2" fill="#079ecf"/>
<circle cx="340.9" cy="1147.7" r="4.2" fill="#06a0cd"/>
<circle cx="344.7" cy="1163.0" r="4.2" fill="#06a2cc"/>
<circle cx="350.1" cy="1176.0" r="4.2" fill="#06a3ca"/>
<circle cx="357.3" cy="1185.2" r="4.2" fill="#06a5c8"/>
<circle cx="367.7" cy="1187.9" r="4.2" fill="#06a6c6"/>
<circle cx="383.4" cy="1190.2" r="4.2" fill="#06a8c4"/>
<circle cx="402.9" cy="1189.1" r="4.2" fill="#07a9c2"/>
<circle cx="420.9" cy="1185.6" r="4.2" fill="#08abc0"/>
<circle cx="441.2" cy="1180.3" r="4.2" fill="#0aacbd"/>
<circle cx="460.8" cy="1172.2" r="4.2" fill="#0dadbb"/>
<circle cx="481.8" cy="1164.2" r="4.2" fill="#10afb9"/>
<circle cx="501.7" cy="1155.7" r="4.2" fill="#13b0b6"/>
<circle cx="519.7" cy="1143.5" r="4.2" fill="#16b1b3"/>
<circle cx="534.7" cy="1129.7" r="4.2" fill="#1ab2b1"/>
<circle cx="545.0" cy="1112.8" r="4.2" fill="#1eb3ae"/>
<circle cx="549.6" cy="1092.9" r="4.2" fill="#22b4ab"/>
<circle cx="546.9" cy="1073.4" r="4.2" fill="#27b5a8"/>
<circle cx="538.9" cy="1051.6" r="4.2" fill="#2bb6a5"/>
<circle cx="525.5" cy="1029.7" r="4.2" fill="#30b7a2"/>
<circle cx="505.6" cy="1008.7" r="4.2" fill="#35b89f"/>
<circle cx="483.4" cy="987.6" r="4.2" fill="#3ab99c"/>
<circle cx="456.2" cy="967.7" r="4.2" fill="#40ba99"/>
<circle cx="424.0" cy="949.7" r="4.2" fill="#46bb96"/>
<circle cx="396.0" cy="936.3" r="4.2" fill="#4bbc93"/>
<circle cx="375.3" cy="923.6" r="4.2" fill="#51bd8f"/>
<circle cx="355.4" cy="910.2" r="4.2" fill="#57bd8c"/>
<circle cx="339.0" cy="896.8" r="4.2" fill="#5ebe89"/>
<circle cx="320.6" cy="883.8" r="4.2" fill="#64be86"/>
<circle cx="307.6" cy="876.5" r="4.2" fill="#6abe83"/>
<circle cx="291.1" cy="872.7" r="4.2" fill="#70bf81"/>
<circle cx="280.0" cy="873.1" r="4.2" fill="#76bf7e"/>
<circle cx="268.1" cy="877.7" r="4.2" fill="#7cbf7b"/>
<circle cx="262.4" cy="886.5" r="4.2" fill="#82bf79"/>
<circle cx="261.6" cy="900.3" r="4.2" fill="#88bf77"/>
<circle cx="261.6" cy="915.6" r="4.2" fill="#8dbf74"/>
<circle cx="259.3" cy="935.1" r="4.2" fill="#92bf72"/>
<circle cx="253.2" cy="950.1" r="4.2" fill="#98bf70"/>
<circle cx="244.7" cy="959.3" r="4.2" fill="#9dbf6e"/>
<circle cx="203.0" cy="979.6" r="4.2" fill="#a2be6c"/>
<circle cx="185.4" cy="989.1" r="4.2" fill="#a7be6a"/>
<circle cx="176.6" cy="998.3" r="4.2" fill="#abbe68"/>
<circle cx="172.4" cy="1011.0" r="4.2" fill="#b0bd66"/>
<circle cx="168.5" cy="1021.3" r="4.2" fill="#b5bd65"/>
<circle cx="161.2" cy="1028.2" r="4.2" fill="#b9bd63"/>
<circle cx="154.0" cy="1033.2" r="4.2" fill="#bebc61"/>
<circle cx="140.9" cy="1033.2" r="4.2" fill="#c2bc5f"/>
<circle cx="131.8" cy="1035.9" r="4.2" fill="#c7bc5d"/>
<circle cx="124.1" cy="1040.8" r="4.2" fill="#cbbb5b"/>
<circle cx="119.1" cy="1049.7" r="4.2" fill="#d0bb5a"/>
<circle cx="112.2" cy="1057.3" r="4.2" fill="#d4bb58"/>
<circle cx="105.7" cy="1069.2" r="4.2" fill="#d8ba56"/>
<circle cx="99.2" cy="1082.6" r="4.2" fill="#dcba54"/>
<circle cx="94.2" cy="1098.3" r="4.2" fill="#e1ba52"/>
<circle cx="93.5" cy="1112.8" r="4.2" fill="#e5b950"/>
<circle cx="96.5" cy="1124.0" r="4.2" fill="#e9b94e"/>
<circle cx="100.7" cy="1132.8" r="4.2" fill="#edb94c"/>
<circle cx="106.9" cy="1141.6" r="4.2" fill="#f1b949"/>
<circle cx="113.8" cy="1146.9" r="4.2" fill="#f5ba47"/>
<circle cx="121.4" cy="1151.5" r="4.2" fill="#f9bb44"/>
<circle cx="131.8" cy="1154.2" r="4.2" fill="#fbbd40"/>
<circle cx="141.3" cy="1158.8" r="4.2" fill="#febf3d"/>
<circle cx="149.4" cy="1161.9" r="4.2" fill="#fec139"/>
<circle cx="158.2" cy="1165.3" r="4.2" fill="#ffc436"/>
<circle cx="167.0" cy="1168.0" r="4.2" fill="#fec734"/>
<circle cx="177.3" cy="1171.5" r="4.2" fill="#fdc931"/>
<circle cx="186.5" cy="1169.9" r="4.2" fill="#fccc2f"/>
<circle cx="194.6" cy="1169.5" r="4.2" fill="#fbcf2d"/>
<circle cx="202.2" cy="1169.2" r="4.2" fill="#fad22b"/>
<circle cx="210.7" cy="1174.5" r="4.2" fill="#f9d429"/>
<circle cx="219.1" cy="1182.6" r="4.2" fill="#f8d726"/>
<circle cx="226.7" cy="1192.1" r="4.2" fill="#f7da24"/>
<circle cx="239.8" cy="1205.2" r="4.2" fill="#f6dd22"/>
<circle cx="256.6" cy="1213.2" r="4.2" fill="#f5e020"/>
<circle cx="273.1" cy="1216.6" r="4.2" fill="#f5e31d"/>
<circle cx="286.1" cy="1212.0" r="4.2" fill="#f5e71b"/>
<circle cx="298.7" cy="1194.0" r="4.2" fill="#f5ea19"/>
<circle cx="307.9" cy="1164.2" r="4.2" fill="#f5ee16"/>
<circle cx="317.5" cy="1129.3" r="4.2" fill="#f6f213"/>
<circle cx="316.0" cy="1098.7" r="4.2" fill="#f8f611"/>
<circle cx="310.6" cy="1085.3" r="4.2" fill="#f9fb0e"/>
<path d="M660.1,853.6V1241.9H1152.7" fill="none" stroke="#444" stroke-width="1.4"/>
<line x1="660.1" y1="1241.9" x2="660.1" y2="1237.4" stroke="#444" stroke-width="1"/>
<text x="660.1" y="1262.1" font-size="15.2" text-anchor="middle" fill="#333">-3</text>
<line x1="742.2" y1="1241.9" x2="742.2" y2="1237.4" stroke="#444" stroke-width="1"/>
<text x="742.2" y="1262.1" font-size="15.2" text-anchor="middle" fill="#333">-2</text>
<line x1="824.3" y1="1241.9" x2="824.3" y2="1237.4" stroke="#444" stroke-width="1"/>
<text x="824.3" y="1262.1" font-size="15.2" text-anchor="middle" fill="#333">-1</text>
<line x1="906.4" y1="1241.9" x2="906.4" y2="1237.4" stroke="#444" stroke-width="1"/>
<text x="906.4" y="1262.1" font-size="15.2" text-anchor="middle" fill="#333">0</text>
<line x1="988.5" y1="1241.9" x2="988.5" y2="1237.4" stroke="#444" stroke-width="1"/>
<text x="988.5" y="1262.1" font-size="15.2" text-anchor="middle" fill="#333">1</text>
<line x1="1070.6" y1="1241.9" x2="1070.6" y2="1237.4" stroke="#444" stroke-width="1"/>
<text x="1070.6" y="1262.1" font-size="15.2" text-anchor="middle" fill="#333">2</text>
<line x1="1152.7" y1="1241.9" x2="1152.7" y2="1237.4" stroke="#444" stroke-width="1"/>
<text x="1152.7" y="1262.1" font-size="15.2" text-anchor="middle" fill="#333">3</text>
<line x1="660.1" y1="853.6" x2="664.6" y2="853.6" stroke="#444" stroke-width="1"/>
<text x="653.1" y="858.8" font-size="15.2" text-anchor="end" fill="#333">2</text>
<line x1="660.1" y1="902.1" x2="664.6" y2="902.1" stroke="#444" stroke-width="1"/>
<text x="653.1" y="907.3" font-size="15.2" text-anchor="end" fill="#333">1.5</text>
<line x1="660.1" y1="950.6" x2="664.6" y2="950.6" stroke="#444" stroke-width="1"/>
<text x="653.1" y="955.8" font-size="15.2" text-anchor="end" fill="#333">1</text>
<line x1="660.1" y1="999.2" x2="664.6" y2="999.2" stroke="#444" stroke-width="1"/>
<text x="653.1" y="1004.4" font-size="15.2" text-anchor="end" fill="#333">0.5</text>
<line x1="660.1" y1="1047.7" x2="664.6" y2="1047.7" stroke="#444" stroke-width="1"/>
<text x="653.1" y="1052.9" font-size="15.2" text-anchor="end" fill="#333">0</text>
<line x1="660.1" y1="1096.3" x2="664.6" y2="1096.3" stroke="#444" stroke-width="1"/>
<text x="653.1" y="1101.5" font-size="15.2" text-anchor="end" fill="#333">-0.5</text>
<line x1="660.1" y1="1144.8" x2="664.6" y2="1144.8" stroke="#444" stroke-width="1"/>
<text x="653.1" y="1150.0" font-size="15.2" text-anchor="end" fill="#333">-1</text>
<line x1="660.1" y1="1193.4" x2="664.6" y2="1193.4" stroke="#444" stroke-width="1"/>
<text x="653.1" y="1198.6" font-size="15.2" text-anchor="end" fill="#333">-1.5</text>
<line x1="660.1" y1="1241.9" x2="664.6" y2="1241.9" stroke="#444" stroke-width="1"/>
<text x="653.1" y="1247.1" font-size="15.2" text-anchor="end" fill="#333">-2</text>
<circle cx="926.3" cy="1042.8" r="4.2" fill="#352a87"/>
<circle cx="929.4" cy="1049.3" r="4.2" fill="#362e8d"/>
<circle cx="935.1" cy="1056.9" r="4.2" fill="#363194"/>
<circle cx="944.3" cy="1070.7" r="4.2" fill="#36349a"/>
<circle cx="956.2" cy="1110.9" r="4.2" fill="#3637a1"/>
<circle cx="966.5" cy="1138.5" r="4.2" fill="#363aa7"/>
<circle cx="975.7" cy="1159.2" r="4.2" fill="#353dae"/>
<circle cx="982.2" cy="1175.7" r="4.2" fill="#3341b5"/>
<circle cx="986.1" cy="1186.8" r="4.2" fill="#3144bb"/>
<circle cx="986.1" cy="1196.7" r="4.2" fill="#2e48c2"/>
<circle cx="979.9" cy="1203.6" r="4.2" fill="#2a4cc9"/>
<circle cx="969.6" cy="1205.9" r="4.2" fill="#2450d0"/>
<circle cx="958.1" cy="1205.2" r="4.2" fill="#1d54d6"/>
<circle cx="946.6" cy="1202.9" r="4.2" fill="#1459db"/>
<circle cx="936.7" cy="1202.1" r="4.2" fill="#0c5dde"/>
<circle cx="929.4" cy="1202.9" r="4.2" fill="#0661e0"/>
<circle cx="922.9" cy="1204.0" r="4.2" fill="#0364e1"/>
<circle cx="917.5" cy="1205.5" r="4.2" fill="#0267e1"/>
<circle cx="912.9" cy="1207.5" r="4.2" fill="#026ae1"/>
<circle cx="908.3" cy="1208.6" r="4.2" fill="#046ce0"/>
<circle cx="904.5" cy="1209.4" r="4.2" fill="#066edf"/>
<circle cx="901.4" cy="1208.2" r="4.2" fill="#0870df"/>
<circle cx="895.7" cy="1205.2" r="4.2" fill="#0a72de"/>
<circle cx="891.9" cy="1202.1" r="4.2" fill="#0c74dd"/>
<circle cx="885.3" cy="1193.3" r="4.2" fill="#0e76db"/>
<circle cx="882.3" cy="1183.7" r="4.2" fill="#1078da"/>
<circle cx="880.0" cy="1174.5" r="4.2" fill="#117ad9"/>
<circle cx="882.3" cy="1164.6" r="4.2" fill="#127cd8"/>
<circle cx="888.0" cy="1152.7" r="4.2" fill="#137ed7"/>
<circle cx="893.8" cy="1140.0" r="4.2" fill="#1480d6"/>
<circle cx="901.8" cy="1127.4" r="4.2" fill="#1483d5"/>
<circle cx="909.9" cy="1115.5" r="4.2" fill="#1485d4"/>
<circle cx="926.3" cy="1106.7" r="4.2" fill="#1487d3"/>
<circle cx="976.9" cy="1094.5" r="4.2" fill="#1389d3"/>
<circle cx="1011.0" cy="1095.2" r="4.2" fill="#128cd2"/>
<circle cx="1038.2" cy="1100.2" r="4.2" fill="#108ed2"/>
<circle cx="1060.8" cy="1104.0" r="4.2" fill="#0e91d2"/>
<circle cx="1078.0" cy="1101.4" r="4.2" fill="#0c94d2"/>
<circle cx="1088.0" cy="1096.4" r="4.2" fill="#0a96d1"/>
<circle cx="1092.9" cy="1089.1" r="4.2" fill="#0899d1"/>
<circle cx="1094.1" cy="1083.4" r="4.2" fill="#079bd0"/>
<circle cx="1094.5" cy="1077.6" r="4.2" fill="#079dcf"/>
<circle cx="1093.3" cy="1071.9" r="4.2" fill="#069fce"/>
<circle cx="1090.6" cy="1068.0" r="4.2" fill="#06a1cc"/>
<circle cx="1085.7" cy="1065.4" r="4.2" fill="#06a3cb"/>
<circle cx="1079.9" cy="1060.8" r="4.2" fill="#06a4c9"/>
<circle cx="1074.2" cy="1054.6" r="4.2" fill="#06a6c7"/>
<circle cx="1072.6" cy="1043.9" r="4.2" fill="#06a7c5"/>
<circle cx="1066.1" cy="1033.9" r="4.2" fill="#07a9c3"/>
<circle cx="1058.8" cy="1024.0" r="4.2" fill="#08aac1"/>
<circle cx="1048.1" cy="1019.4" r="4.2" fill="#09abbe"/>
<circle cx="1038.2" cy="1014.8" r="4.2" fill="#0cadbc"/>
<circle cx="1029.7" cy="1008.7" r="4.2" fill="#0eaeba"/>
<circle cx="1021.3" cy="1002.9" r="4.2" fill="#11afb7"/>
<circle cx="1015.6" cy="996.8" r="4.2" fill="#15b0b5"/>
<circle cx="1010.2" cy="990.7" r="4.2" fill="#18b2b2"/>
<circle cx="1004.5" cy="983.4" r="4.2" fill="#1cb3af"/>
<circle cx="999.9" cy="976.1" r="4.2" fill="#20b4ad"/>
<circle cx="996.0" cy="968.1" r="4.2" fill="#25b5aa"/>
<circle cx="991.8" cy="960.0" r="4.2" fill="#29b6a7"/>
<circle cx="988.8" cy="952.4" r="4.2" fill="#2eb7a4"/>
<circle cx="986.8" cy="945.5" r="4.2" fill="#33b8a1"/>
<circle cx="987.2" cy="937.0" r="4.2" fill="#38b99e"/>
<circle cx="989.5" cy="927.5" r="4.2" fill="#3dba9b"/>
<circle cx="992.2" cy="916.7" r="4.2" fill="#42bb98"/>
<circle cx="992.2" cy="906.8" r="4.2" fill="#48bb94"/>
<circle cx="988.4" cy="898.7" r="4.2" fill="#4ebc91"/>
<circle cx="984.9" cy="893.8" r="4.2" fill="#54bd8e"/>
<circle cx="977.3" cy="889.6" r="4.2" fill="#5abd8b"/>
<circle cx="968.1" cy="885.3" r="4.2" fill="#60be88"/>
<circle cx="957.3" cy="881.9" r="4.2" fill="#67be85"/>
<circle cx="944.3" cy="878.4" r="4.2" fill="#6dbf82"/>
<circle cx="930.5" cy="876.1" r="4.2" fill="#73bf7f"/>
<circle cx="917.5" cy="875.0" r="4.2" fill="#79bf7d"/>
<circle cx="907.6" cy="874.2" r="4.2" fill="#7fbf7a"/>
<circle cx="897.6" cy="873.9" r="4.2" fill="#84bf78"/>
<circle cx="888.4" cy="875.0" r="4.2" fill="#8abf76"/>
<circle cx="878.8" cy="878.8" r="4.2" fill="#8fbf74"/>
<circle cx="870.4" cy="886.5" r="4.2" fill="#94bf71"/>
<circle cx="863.5" cy="898.7" r="4.2" fill="#99bf6f"/>
<circle cx="857.8" cy="914.1" r="4.2" fill="#9ebe6d"/>
<circle cx="850.1" cy="929.4" r="4.2" fill="#a3be6b"/>
<circle cx="840.5" cy="943.9" r="4.2" fill="#a8be6a"/>
<circle cx="827.5" cy="952.0" r="4.2" fill="#adbe68"/>
<circle cx="809.9" cy="957.0" r="4.2" fill="#b2bd66"/>
<circle cx="789.2" cy="959.6" r="4.2" fill="#b6bd64"/>
<circle cx="770.8" cy="961.2" r="4.2" fill="#bbbd62"/>
<circle cx="755.5" cy="963.1" r="4.2" fill="#bfbc60"/>
<circle cx="745.2" cy="967.7" r="4.2" fill="#c4bc5f"/>
<circle cx="737.9" cy="972.7" r="4.2" fill="#c8bc5d"/>
<circle cx="732.9" cy="979.2" r="4.2" fill="#ccbb5b"/>
<circle cx="730.2" cy="984.9" r="4.2" fill="#d1bb59"/>
<circle cx="728.7" cy="991.1" r="4.2" fill="#d5ba57"/>
<circle cx="729.8" cy="997.6" r="4.2" fill="#d9ba56"/>
<circle cx="731.0" cy="1004.5" r="4.2" fill="#ddba54"/>
<circle cx="732.1" cy="1011.7" r="4.2" fill="#e1b952"/>
<circle cx="732.9" cy="1022.1" r="4.2" fill="#e6b950"/>
<circle cx="735.2" cy="1035.5" r="4.2" fill="#eab94e"/>
<circle cx="737.9" cy="1051.2" r="4.2" fill="#eeb94b"/>
<circle cx="739.4" cy="1066.9" r="4.2" fill="#f2b949"/>
<circle cx="738.3" cy="1082.6" r="4.2" fill="#f6ba46"/>
<circle cx="735.6" cy="1098.3" r="4.2" fill="#f9bb43"/>
<circle cx="732.1" cy="1112.5" r="4.2" fill="#fcbd3f"/>
<circle cx="730.2" cy="1127.8" r="4.2" fill="#febf3c"/>
<circle cx="729.8" cy="1139.3" r="4.2" fill="#fec239"/>
<circle cx="731.0" cy="1146.9" r="4.2" fill="#ffc436"/>
<circle cx="733.7" cy="1153.1" r="4.2" fill="#fec733"/>
<circle cx="739.4" cy="1154.2" r="4.2" fill="#fdca31"/>
<circle cx="746.7" cy="1146.9" r="4.2" fill="#fccc2f"/>
<circle cx="757.0" cy="1131.2" r="4.2" fill="#fbcf2d"/>
<circle cx="769.7" cy="1106.7" r="4.2" fill="#fad22a"/>
<circle cx="780.4" cy="1083.7" r="4.2" fill="#f9d528"/>
<circle cx="792.3" cy="1063.1" r="4.2" fill="#f8d726"/>
<circle cx="805.7" cy="1045.4" r="4.2" fill="#f7da24"/>
<circle cx="821.0" cy="1030.1" r="4.2" fill="#f6dd22"/>
<circle cx="835.9" cy="1023.2" r="4.2" fill="#f5e020"/>
<circle cx="852.0" cy="1017.9" r="4.2" fill="#f5e41d"/>
<circle cx="867.0" cy="1019.4" r="4.2" fill="#f5e71b"/>
<circle cx="878.4" cy="1023.2" r="4.2" fill="#f5eb18"/>
<circle cx="885.7" cy="1030.5" r="4.2" fill="#f5ee16"/>
<circle cx="892.6" cy="1033.9" r="4.2" fill="#f6f213"/>
<circle cx="893.8" cy="1037.8" r="4.2" fill="#f8f711"/>
<circle cx="894.2" cy="1042.0" r="4.2" fill="#f9fb0e"/>
<line x1="399" y1="1513.6" x2="1313" y2="1513.6" stroke="#e6e6e6" stroke-width="1.5"/>
<line x1="399" y1="1630.0" x2="1313" y2="1630.0" stroke="#e6e6e6" stroke-width="1.5"/>
<line x1="399" y1="1746.4" x2="1313" y2="1746.4" stroke="#e6e6e6" stroke-width="1.5"/>
<line x1="399" y1="1862.8" x2="1313" y2="1862.8" stroke="#e6e6e6" stroke-width="1.5"/>
<line x1="399" y1="1979.3" x2="1313" y2="1979.3" stroke="#e6e6e6" stroke-width="1.5"/>
<polygon points="532.9,1735.1 535.5,1743.8 539.5,1754.8 543.4,1763.5 548.2,1772.3 553.1,1780.0 558.1,1787.6 563.1,1793.8 568.0,1798.6 572.8,1804.1 575.0,1810.6 573.7,1819.4 568.0,1826.0 557.0,1832.6 550.0,1840.2 546.5,1849.0 546.0,1857.8 547.4,1864.3 548.2,1873.1 547.4,1881.9 545.0,1888.4 541.2,1896.1 537.7,1904.9 534.7,1912.5 532.9,1918.0 532.9,1918.0 531.1,1912.5 528.1,1904.9 524.6,1896.1 520.8,1888.4 518.4,1881.9 517.6,1873.1 518.4,1864.3 519.8,1857.8 519.3,1849.0 515.8,1840.2 508.8,1832.6 497.8,1826.0 492.1,1819.4 490.8,1810.6 493.0,1804.1 497.8,1798.6 502.7,1793.8 507.7,1787.6 512.7,1780.0 517.6,1772.3 522.4,1763.5 526.3,1754.8 530.3,1743.8 532.9,1735.1" fill="#abdaf4"/>
<circle cx="532.9" cy="1759.6" r="3.9" fill="#56b4e9"/>
<circle cx="532.9" cy="1772.3" r="3.9" fill="#56b4e9"/>
<circle cx="532.9" cy="1789.8" r="3.9" fill="#56b4e9"/>
<circle cx="532.9" cy="1796.4" r="3.9" fill="#56b4e9"/>
<circle cx="532.9" cy="1839.6" r="3.9" fill="#56b4e9"/>
<circle cx="532.9" cy="1864.3" r="3.9" fill="#56b4e9"/>
<circle cx="532.9" cy="1869.8" r="3.9" fill="#56b4e9"/>
<circle cx="532.9" cy="1880.3" r="3.9" fill="#56b4e9"/>
<circle cx="532.9" cy="1892.8" r="3.9" fill="#56b4e9"/>
<polygon points="532.9,1801.9 544.9,1820.5 520.9,1820.5" fill="#00008b" fill-opacity="0.90"/>
<polygon points="532.9,1806.0 547.4,1820.5 532.9,1835.0 518.4,1820.5" fill="#8b1a1a" fill-opacity="0.85"/>
<polygon points="752.2,1692.3 754.0,1700.0 757.0,1711.0 761.0,1721.9 764.5,1732.9 767.1,1743.8 769.1,1754.8 770.4,1765.7 771.5,1776.7 772.4,1787.6 773.2,1798.6 773.7,1809.6 773.7,1822.7 773.5,1831.5 772.8,1842.4 771.5,1853.4 769.3,1864.3 766.4,1875.3 763.2,1886.2 759.9,1897.2 757.0,1908.2 755.5,1919.1 754.4,1934.4 752.9,1941.0 752.5,1955.3 751.9,1955.3 751.5,1941.0 750.0,1934.4 748.9,1919.1 747.4,1908.2 744.5,1897.2 741.2,1886.2 738.0,1875.3 735.1,1864.3 732.9,1853.4 731.6,1842.4 730.9,1831.5 730.7,1822.7 730.7,1809.6 731.2,1798.6 732.0,1787.6 732.9,1776.7 734.0,1765.7 735.3,1754.8 737.3,1743.8 739.9,1732.9 743.4,1721.9 747.4,1711.0 750.4,1700.0 752.2,1692.3" fill="#80ceb9"/>
<circle cx="752.2" cy="1740.5" r="3.9" fill="#009e73"/>
<circle cx="752.2" cy="1743.8" r="3.9" fill="#009e73"/>
<circle cx="752.2" cy="1747.1" r="3.9" fill="#009e73"/>
<circle cx="752.2" cy="1758.7" r="3.9" fill="#009e73"/>
<circle cx="752.2" cy="1771.2" r="3.9" fill="#009e73"/>
<circle cx="752.2" cy="1789.8" r="3.9" fill="#009e73"/>
<circle cx="752.2" cy="1795.3" r="3.9" fill="#009e73"/>
<circle cx="752.2" cy="1840.2" r="3.9" fill="#009e73"/>
<circle cx="752.2" cy="1844.6" r="3.9" fill="#009e73"/>
<circle cx="752.2" cy="1851.2" r="3.9" fill="#009e73"/>
<circle cx="752.2" cy="1856.7" r="3.9" fill="#009e73"/>
<circle cx="752.2" cy="1879.0" r="3.9" fill="#009e73"/>
<rect x="750.2" y="1915.8" width="4" height="8" fill="#009e73"/>
<polygon points="752.2,1800.8 764.2,1820.9 740.2,1820.9" fill="#00008b" fill-opacity="0.90"/>
<polygon points="752.2,1799.4 767.7,1813.9 752.2,1828.4 736.7,1813.9" fill="#8b1a1a" fill-opacity="0.85"/>
<polygon points="972.2,1754.8 981.0,1759.6 994.1,1764.0 1010.5,1769.9 1011.6,1777.8 1029.2,1782.6 1048.9,1785.9 1069.7,1791.0 1048.9,1794.7 1029.2,1799.1 1013.8,1804.6 1012.7,1809.4 994.1,1818.1 978.8,1823.8 972.2,1828.0 972.2,1828.0 965.6,1823.8 950.3,1818.1 931.7,1809.4 930.6,1804.6 915.2,1799.1 895.5,1794.7 874.7,1791.0 895.5,1785.9 915.2,1782.6 932.8,1777.8 933.9,1769.9 950.3,1764.0 963.4,1759.6 972.2,1754.8" fill="#f3cf80"/>
<polygon points="972.2,1849.5 978.8,1856.0 989.7,1863.7 978.8,1871.4 972.2,1878.0 972.2,1878.0 965.6,1871.4 954.7,1863.7 965.6,1856.0 972.2,1849.5" fill="#f3cf80"/>
<circle cx="972.2" cy="1771.0" r="3.9" fill="#ecc224"/>
<circle cx="972.2" cy="1813.8" r="3.9" fill="#ecc224"/>
<circle cx="972.2" cy="1863.1" r="3.9" fill="#ecc224"/>
<polygon points="972.2,1779.4 984.2,1799.1 960.2,1799.1" fill="#00008b" fill-opacity="0.90"/>
<polygon points="972.2,1783.0 987.7,1797.5 972.2,1812.0 956.7,1797.5" fill="#8b1a1a" fill-opacity="0.85"/>
<polygon points="1192.0,1530.7 1192.7,1548.2 1194.6,1565.7 1195.7,1583.3 1196.8,1598.6 1197.9,1613.9 1199.0,1631.5 1200.1,1649.0 1200.8,1664.3 1201.9,1681.9 1203.0,1697.2 1204.3,1714.7 1205.6,1730.1 1206.7,1741.0 1207.3,1752.0 1208.0,1762.9 1208.4,1773.9 1208.7,1784.8 1208.4,1793.6 1207.3,1806.7 1205.6,1817.7 1203.6,1828.7 1201.2,1839.6 1199.0,1850.6 1196.8,1861.5 1195.1,1872.5 1193.8,1883.4 1192.4,1892.2 1192.0,1898.8 1192.0,1898.8 1191.6,1892.2 1190.2,1883.4 1188.9,1872.5 1187.2,1861.5 1185.0,1850.6 1182.8,1839.6 1180.4,1828.7 1178.4,1817.7 1176.7,1806.7 1175.6,1793.6 1175.3,1784.8 1175.6,1773.9 1176.0,1762.9 1176.7,1752.0 1177.3,1741.0 1178.4,1730.1 1179.7,1714.7 1181.0,1697.2 1182.1,1681.9 1183.2,1664.3 1183.9,1649.0 1185.0,1631.5 1186.1,1613.9 1187.2,1598.6 1188.3,1583.3 1189.4,1565.7 1191.3,1548.2 1192.0,1530.7" fill="#e6bcd3"/>
<circle cx="1192" cy="1580.6" r="3.9" fill="#cc79a7"/>
<circle cx="1192" cy="1629.9" r="3.9" fill="#cc79a7"/>
<circle cx="1192" cy="1675.7" r="3.9" fill="#cc79a7"/>
<circle cx="1192" cy="1686.7" r="3.9" fill="#cc79a7"/>
<circle cx="1192" cy="1706.0" r="3.9" fill="#cc79a7"/>
<circle cx="1192" cy="1778.7" r="3.9" fill="#cc79a7"/>
<circle cx="1192" cy="1783.1" r="3.9" fill="#cc79a7"/>
<circle cx="1192" cy="1813.8" r="3.9" fill="#cc79a7"/>
<circle cx="1192" cy="1843.3" r="3.9" fill="#cc79a7"/>
<polygon points="1192.3,1749.8 1205.0,1769.9 1179.6,1769.9" fill="#00008b" fill-opacity="0.88"/>
<polygon points="1192.3,1719.0 1206.6,1733.3 1192.3,1747.6 1178.0,1733.3" fill="#a52a2a" fill-opacity="0.90"/>
<line x1="532.9" y1="2021" x2="532.9" y2="2027.6" stroke="#333" stroke-width="1.5"/>
<line x1="752.2" y1="2021" x2="752.2" y2="2027.6" stroke="#333" stroke-width="1.5"/>
<line x1="972.2" y1="2021" x2="972.2" y2="2027.6" stroke="#333" stroke-width="1.5"/>
<line x1="1192.0" y1="2021" x2="1192.0" y2="2027.6" stroke="#333" stroke-width="1.5"/>
<line x1="392.1" y1="1455.4" x2="399.2" y2="1455.4" stroke="#333" stroke-width="1.6"/>
<text transform="translate(355.65,1463.90) scale(1.0106,1)" font-size="21.80" fill="#4d4d4d">1.0</text>
<line x1="392.1" y1="1571.9" x2="399.2" y2="1571.9" stroke="#333" stroke-width="1.6"/>
<text transform="translate(356.44,1580.35) scale(0.9912,1)" font-size="21.80" fill="#4d4d4d">0.9</text>
<line x1="392.1" y1="1688.3" x2="399.2" y2="1688.3" stroke="#333" stroke-width="1.6"/>
<text transform="translate(356.44,1696.80) scale(0.9875,1)" font-size="21.80" fill="#4d4d4d">0.8</text>
<line x1="392.1" y1="1804.8" x2="399.2" y2="1804.8" stroke="#333" stroke-width="1.6"/>
<text transform="translate(356.43,1813.25) scale(0.9951,1)" font-size="21.80" fill="#4d4d4d">0.7</text>
<line x1="392.1" y1="1921.2" x2="399.2" y2="1921.2" stroke="#333" stroke-width="1.6"/>
<text transform="translate(356.44,1929.70) scale(0.9875,1)" font-size="21.80" fill="#4d4d4d">0.6</text>
<path d="M349.8,1641.4h2v1.3h-2z" fill="#1a1a3a"/>
<path d="M349.6,1862.4l1.9,2.8" stroke="#151540" stroke-width="1.4" fill="none"/>
<path d="M328,1953.4q3,5.2 7.2,2.6M338.4,1957.6q5,0 8,-4.2" stroke="#151540" stroke-width="1.6" fill="none"/>
<text transform="translate(144.81,1444.10) scale(1.2288,1)" font-size="25.80" fill="#000">Conditions</text>
<rect x="149.9" y="1462.4" width="43" height="34.2" fill="#abdaf4"/>
<ellipse cx="170.4" cy="1478.9" rx="6" ry="4.7" fill="#2d5f7c"/>
<text transform="translate(209.23,1487.80) scale(1.2887,1)" font-size="21.20" fill="#000">CON</text>
<rect x="149.9" y="1502.5" width="43" height="34.2" fill="#80ceb9"/>
<ellipse cx="170.4" cy="1519.0" rx="6" ry="4.7" fill="#06543f"/>
<text transform="translate(209.41,1528.20) scale(1.2507,1)" font-size="21.20" fill="#000">SED</text>
<rect x="149.9" y="1542.6" width="43" height="34.2" fill="#f3cf80"/>
<ellipse cx="170.4" cy="1559.1" rx="6" ry="4.7" fill="#7a5408"/>
<text transform="translate(208.51,1570.40) scale(1.2338,1)" font-size="21.20" fill="#000">MCS</text>
<rect x="149.9" y="1582.7" width="43" height="34.2" fill="#e6bcd3"/>
<ellipse cx="170.4" cy="1599.2" rx="6" ry="4.7" fill="#6d4059"/>
<text transform="translate(208.59,1610.30) scale(1.2614,1)" font-size="21.20" fill="#000">UWS</text>
<ellipse cx="1453.5" cy="1558.5" rx="6.9" ry="7.3" fill="#4472c4" stroke="#2f528f" stroke-width="1.2"/>
<ellipse cx="1494.3" cy="1558.5" rx="6.9" ry="7.3" fill="#4472c4" stroke="#2f528f" stroke-width="1.2"/>
<ellipse cx="1535.1" cy="1558.5" rx="6.9" ry="7.3" fill="#4472c4" stroke="#2f528f" stroke-width="1.2"/>
<ellipse cx="1575.9" cy="1558.5" rx="6.9" ry="7.3" fill="#4472c4" stroke="#2f528f" stroke-width="1.2"/>
<ellipse cx="1615.2" cy="1558.5" rx="6.9" ry="7.3" fill="#4472c4" stroke="#2f528f" stroke-width="1.2"/>
<circle cx="1655.2" cy="1558.5" r="7.6" fill="#ff0000"/>
<ellipse cx="1695.2" cy="1558.5" rx="6.9" ry="7.3" fill="#4472c4" stroke="#2f528f" stroke-width="1.2"/>
<ellipse cx="1736.4" cy="1558.5" rx="6.9" ry="7.3" fill="#4472c4" stroke="#2f528f" stroke-width="1.2"/>
<ellipse cx="1777.6" cy="1558.5" rx="6.9" ry="7.3" fill="#4472c4" stroke="#2f528f" stroke-width="1.2"/>
<ellipse cx="1818.0" cy="1558.5" rx="6.9" ry="7.3" fill="#4472c4" stroke="#2f528f" stroke-width="1.2"/>
<ellipse cx="1858.4" cy="1558.5" rx="6.9" ry="7.3" fill="#4472c4" stroke="#2f528f" stroke-width="1.2"/>
<path d="M1507.9,1524.7L1518.4,1513.8V1520H1643.2V1529.4H1518.4V1535.2Z" fill="#00b050"/>
<path d="M1800.5,1524.7L1790.4,1513.8V1520H1664.1V1529.4H1790.4V1535.2Z" fill="#ff0000"/>
<g transform="translate(1300,1440) scale(0.38862)" fill="none" stroke="#4472c4" stroke-linecap="round">
<path d="M813,345 C830,385 845,408 858,408 C872,408 890,385 905,348" stroke-width="6.5"/>
<path d="M932,345 C945,385 960,408 975,408 C990,408 1005,385 1017,348" stroke-width="6.5"/>
<path d="M728,350 C780,460 830,572 860,572 C885,572 895,460 908,345" stroke-width="4"/>
<path d="M915,345 C925,460 940,570 965,570 C995,570 1050,460 1107,352" stroke-width="4"/>
<path d="M617,348 C700,390 850,600 905,638 C915,645 920,640 930,632 C1000,570 1150,420 1225,360" stroke-width="2.2"/>
<path d="M908,350 C895,450 880,560 888,610 C893,640 935,640 940,610 C945,560 930,450 920,350" stroke-width="2.2"/>
</g>
<text transform="translate(1589.52,1503.00) scale(0.9669,1)" font-size="25.60" fill="#000">Past</text>
<text transform="translate(1665.03,1503.00) scale(1.0610,1)" font-size="25.60" fill="#000">Future</text>
<text transform="translate(46.97,93.00) scale(0.8495,1)" font-size="48.00" fill="#000">a</text>
<text transform="translate(576.82,93.20) scale(1.0201,1)" font-size="52.50" fill="#000">b</text>
<text transform="translate(1165.53,93.00) scale(1.0249,1)" font-size="48.00" fill="#000">c</text>
<text transform="translate(64.71,670.00) scale(1.1133,1)" font-size="51.50" fill="#000">d</text>
<text transform="translate(1159.72,843.60) scale(1.0328,1)" font-size="48.00" fill="#000">e</text>
<text transform="translate(416.30,1378.80) scale(1.3283,1.0924)" font-size="50.00" fill="#000">f</text>
<text transform="translate(1341.58,30.70) scale(1.0355,1)" font-size="39.40" fill="#000">The Meta-Matrix</text>
<text transform="translate(1647.54,30.70) scale(1.1481,1)" font-size="39.40" font-weight="bold" fill="#000">(MM)</text>
<text transform="translate(1221.60,790.40) scale(1.0607,1)" font-size="37.70" fill="#000">Temporal Decay of Similarity Model</text>
<text transform="translate(1856.73,790.40) scale(1.0454,1)" font-size="37.70" font-weight="bold" fill="#000">(TDSM)</text>
<text transform="translate(331.85,670.00) scale(1.0994,1)" font-size="36.90" fill="#000">Intrinsic dynamic state representation</text>
<text transform="translate(260.82,775.60) scale(1.0654,1)" font-size="33.50" fill="#000">Control Awake</text>
<text transform="translate(714.48,748.00) scale(1.0419,1)" font-size="33.50" fill="#000">Unresponsive Wakefulness</text>
<text transform="translate(845.82,794.00) scale(1.0469,1)" font-size="33.50" fill="#000">Syndrome</text>
<text transform="translate(460.27,1305.50) scale(1.0371,1)" font-size="37.70" fill="#000">Euclidean Distance</text>
<text transform="translate(31.00,1234.79) rotate(-90) scale(1.0258,1)" font-size="37.70" fill="#000">Euclidean Distance</text>
<text transform="translate(526.66,1368.50) scale(1.1660,1)" font-size="35.00" fill="#000">Similarity of Meta-Matrix to TDSM</text>
<text transform="translate(738.99,1418.20) scale(0.9795,1)" font-size="27.40" fill="#000">OR=3.17 (p=0.0001)</text>
<text transform="translate(334.40,1894.31) rotate(-90) scale(1.0482,1)" font-size="33.50" fill="#000">Pearson’s correlation</text>
<text transform="translate(503.39,2060.40) scale(0.9275,1)" font-size="26.00" fill="#000">CON</text>
<text transform="translate(726.50,2060.40) scale(0.8573,1)" font-size="26.00" fill="#000">SED</text>
<text transform="translate(942.04,2060.40) scale(0.9436,1)" font-size="26.00" fill="#000">MCS</text>
<text transform="translate(1161.53,2060.40) scale(0.9607,1)" font-size="26.00" fill="#000">UWS</text>
</svg>
</body></html>
